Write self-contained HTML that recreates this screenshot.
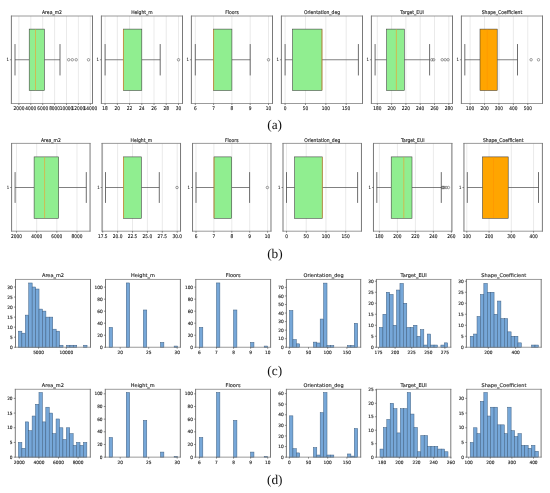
<!DOCTYPE html>
<html><head><meta charset="utf-8"><title>Figure</title>
<style>
html,body{margin:0;padding:0;background:#fff;}
body{width:550px;height:493px;overflow:hidden;}
svg{display:block;}
text{text-rendering:geometricPrecision;}
</style></head>
<body>
<svg width="550" height="493" viewBox="0 0 550 493">
<defs><filter id="soft" x="0" y="0" width="100%" height="100%" filterUnits="userSpaceOnUse"><feGaussianBlur stdDeviation="0.3"/></filter></defs>
<rect x="0" y="0" width="550" height="493" fill="#fff"/>
<g filter="url(#soft)">
<line x1="18.9" y1="16" x2="18.9" y2="103.5" stroke="#dcdcdc" stroke-width="0.6"/>
<line x1="30.8" y1="16" x2="30.8" y2="103.5" stroke="#dcdcdc" stroke-width="0.6"/>
<line x1="42.7" y1="16" x2="42.7" y2="103.5" stroke="#dcdcdc" stroke-width="0.6"/>
<line x1="54.6" y1="16" x2="54.6" y2="103.5" stroke="#dcdcdc" stroke-width="0.6"/>
<line x1="66.5" y1="16" x2="66.5" y2="103.5" stroke="#dcdcdc" stroke-width="0.6"/>
<line x1="78.4" y1="16" x2="78.4" y2="103.5" stroke="#dcdcdc" stroke-width="0.6"/>
<line x1="90.3" y1="16" x2="90.3" y2="103.5" stroke="#dcdcdc" stroke-width="0.6"/>
<line x1="15" y1="59.75" x2="29.2" y2="59.75" stroke="#4a4a4a" stroke-width="0.7"/>
<line x1="44.4" y1="59.75" x2="60" y2="59.75" stroke="#4a4a4a" stroke-width="0.7"/>
<line x1="15" y1="44.05" x2="15" y2="75.45" stroke="#4a4a4a" stroke-width="0.8"/>
<line x1="60" y1="44.05" x2="60" y2="75.45" stroke="#4a4a4a" stroke-width="0.8"/>
<rect x="29.2" y="29.1" width="15.2" height="61.4" fill="#90ee90" stroke="#3a3a3a" stroke-width="0.55"/>
<line x1="35.5" y1="29.4" x2="35.5" y2="90.2" stroke="#f0a030" stroke-width="0.65"/>
<circle cx="68.7" cy="59.75" r="1.25" fill="none" stroke="#444" stroke-width="0.5"/>
<circle cx="72.3" cy="59.75" r="1.25" fill="none" stroke="#444" stroke-width="0.5"/>
<circle cx="76.2" cy="59.75" r="1.25" fill="none" stroke="#444" stroke-width="0.5"/>
<circle cx="88.5" cy="59.75" r="1.25" fill="none" stroke="#444" stroke-width="0.5"/>
<line x1="11.4" y1="15.62" x2="11.4" y2="103.88" stroke="#6a6a6a" stroke-width="0.9"/>
<line x1="92.5" y1="15.62" x2="92.5" y2="103.88" stroke="#6a6a6a" stroke-width="0.9"/>
<line x1="10.95" y1="16" x2="92.95" y2="16" stroke="#7a7a7a" stroke-width="0.75"/>
<line x1="10.95" y1="103.5" x2="92.95" y2="103.5" stroke="#7a7a7a" stroke-width="0.75"/>
<line x1="18.9" y1="103.5" x2="18.9" y2="105" stroke="#444" stroke-width="0.6"/>
<text transform="translate(18.9 110.35) scale(1 1.15)" font-size="4.3" text-anchor="middle" font-family="'DejaVu Sans', 'Liberation Sans', sans-serif" fill="#222" stroke="#222" stroke-width="0.12">2000</text>
<line x1="30.8" y1="103.5" x2="30.8" y2="105" stroke="#444" stroke-width="0.6"/>
<text transform="translate(30.8 110.35) scale(1 1.15)" font-size="4.3" text-anchor="middle" font-family="'DejaVu Sans', 'Liberation Sans', sans-serif" fill="#222" stroke="#222" stroke-width="0.12">4000</text>
<line x1="42.7" y1="103.5" x2="42.7" y2="105" stroke="#444" stroke-width="0.6"/>
<text transform="translate(42.7 110.35) scale(1 1.15)" font-size="4.3" text-anchor="middle" font-family="'DejaVu Sans', 'Liberation Sans', sans-serif" fill="#222" stroke="#222" stroke-width="0.12">6000</text>
<line x1="54.6" y1="103.5" x2="54.6" y2="105" stroke="#444" stroke-width="0.6"/>
<text transform="translate(54.6 110.35) scale(1 1.15)" font-size="4.3" text-anchor="middle" font-family="'DejaVu Sans', 'Liberation Sans', sans-serif" fill="#222" stroke="#222" stroke-width="0.12">8000</text>
<line x1="66.5" y1="103.5" x2="66.5" y2="105" stroke="#444" stroke-width="0.6"/>
<text transform="translate(66.5 110.35) scale(1 1.15)" font-size="4.3" text-anchor="middle" font-family="'DejaVu Sans', 'Liberation Sans', sans-serif" fill="#222" stroke="#222" stroke-width="0.12">10000</text>
<line x1="78.4" y1="103.5" x2="78.4" y2="105" stroke="#444" stroke-width="0.6"/>
<text transform="translate(78.4 110.35) scale(1 1.15)" font-size="4.3" text-anchor="middle" font-family="'DejaVu Sans', 'Liberation Sans', sans-serif" fill="#222" stroke="#222" stroke-width="0.12">12000</text>
<line x1="90.3" y1="103.5" x2="90.3" y2="105" stroke="#444" stroke-width="0.6"/>
<text transform="translate(90.3 110.35) scale(1 1.15)" font-size="4.3" text-anchor="middle" font-family="'DejaVu Sans', 'Liberation Sans', sans-serif" fill="#222" stroke="#222" stroke-width="0.12">14000</text>
<line x1="9.9" y1="59.75" x2="11.4" y2="59.75" stroke="#444" stroke-width="0.6"/>
<text transform="translate(8.9 61.45) scale(1 1.15)" font-size="3.8" text-anchor="end" font-family="'DejaVu Sans', 'Liberation Sans', sans-serif" fill="#222" stroke="#222" stroke-width="0.05">1</text>
<text transform="translate(51.95 13.6) scale(1 1.15)" font-size="4.5" text-anchor="middle" font-family="'DejaVu Sans', 'Liberation Sans', sans-serif" fill="#222" stroke="#222" stroke-width="0.12">Area_m2</text>
<line x1="105.1" y1="16" x2="105.1" y2="103.5" stroke="#dcdcdc" stroke-width="0.6"/>
<line x1="117.33" y1="16" x2="117.33" y2="103.5" stroke="#dcdcdc" stroke-width="0.6"/>
<line x1="129.56" y1="16" x2="129.56" y2="103.5" stroke="#dcdcdc" stroke-width="0.6"/>
<line x1="141.79" y1="16" x2="141.79" y2="103.5" stroke="#dcdcdc" stroke-width="0.6"/>
<line x1="154.02" y1="16" x2="154.02" y2="103.5" stroke="#dcdcdc" stroke-width="0.6"/>
<line x1="166.25" y1="16" x2="166.25" y2="103.5" stroke="#dcdcdc" stroke-width="0.6"/>
<line x1="178.48" y1="16" x2="178.48" y2="103.5" stroke="#dcdcdc" stroke-width="0.6"/>
<line x1="105.1" y1="59.75" x2="123.4" y2="59.75" stroke="#4a4a4a" stroke-width="0.7"/>
<line x1="141.8" y1="59.75" x2="160.2" y2="59.75" stroke="#4a4a4a" stroke-width="0.7"/>
<line x1="105.1" y1="44.05" x2="105.1" y2="75.45" stroke="#4a4a4a" stroke-width="0.8"/>
<line x1="160.2" y1="44.05" x2="160.2" y2="75.45" stroke="#4a4a4a" stroke-width="0.8"/>
<rect x="123.4" y="29.1" width="18.4" height="61.4" fill="#90ee90" stroke="#3a3a3a" stroke-width="0.55"/>
<line x1="123.45" y1="29.4" x2="123.45" y2="90.2" stroke="#f0a030" stroke-width="0.65"/>
<circle cx="178.5" cy="59.75" r="1.25" fill="none" stroke="#444" stroke-width="0.5"/>
<line x1="101.4" y1="15.62" x2="101.4" y2="103.88" stroke="#6a6a6a" stroke-width="0.9"/>
<line x1="182.5" y1="15.62" x2="182.5" y2="103.88" stroke="#6a6a6a" stroke-width="0.9"/>
<line x1="100.95" y1="16" x2="182.95" y2="16" stroke="#7a7a7a" stroke-width="0.75"/>
<line x1="100.95" y1="103.5" x2="182.95" y2="103.5" stroke="#7a7a7a" stroke-width="0.75"/>
<line x1="105.1" y1="103.5" x2="105.1" y2="105" stroke="#444" stroke-width="0.6"/>
<text transform="translate(105.1 110.35) scale(1 1.15)" font-size="4.3" text-anchor="middle" font-family="'DejaVu Sans', 'Liberation Sans', sans-serif" fill="#222" stroke="#222" stroke-width="0.12">18</text>
<line x1="117.33" y1="103.5" x2="117.33" y2="105" stroke="#444" stroke-width="0.6"/>
<text transform="translate(117.33 110.35) scale(1 1.15)" font-size="4.3" text-anchor="middle" font-family="'DejaVu Sans', 'Liberation Sans', sans-serif" fill="#222" stroke="#222" stroke-width="0.12">20</text>
<line x1="129.56" y1="103.5" x2="129.56" y2="105" stroke="#444" stroke-width="0.6"/>
<text transform="translate(129.56 110.35) scale(1 1.15)" font-size="4.3" text-anchor="middle" font-family="'DejaVu Sans', 'Liberation Sans', sans-serif" fill="#222" stroke="#222" stroke-width="0.12">22</text>
<line x1="141.79" y1="103.5" x2="141.79" y2="105" stroke="#444" stroke-width="0.6"/>
<text transform="translate(141.79 110.35) scale(1 1.15)" font-size="4.3" text-anchor="middle" font-family="'DejaVu Sans', 'Liberation Sans', sans-serif" fill="#222" stroke="#222" stroke-width="0.12">24</text>
<line x1="154.02" y1="103.5" x2="154.02" y2="105" stroke="#444" stroke-width="0.6"/>
<text transform="translate(154.02 110.35) scale(1 1.15)" font-size="4.3" text-anchor="middle" font-family="'DejaVu Sans', 'Liberation Sans', sans-serif" fill="#222" stroke="#222" stroke-width="0.12">26</text>
<line x1="166.25" y1="103.5" x2="166.25" y2="105" stroke="#444" stroke-width="0.6"/>
<text transform="translate(166.25 110.35) scale(1 1.15)" font-size="4.3" text-anchor="middle" font-family="'DejaVu Sans', 'Liberation Sans', sans-serif" fill="#222" stroke="#222" stroke-width="0.12">28</text>
<line x1="178.48" y1="103.5" x2="178.48" y2="105" stroke="#444" stroke-width="0.6"/>
<text transform="translate(178.48 110.35) scale(1 1.15)" font-size="4.3" text-anchor="middle" font-family="'DejaVu Sans', 'Liberation Sans', sans-serif" fill="#222" stroke="#222" stroke-width="0.12">30</text>
<line x1="99.9" y1="59.75" x2="101.4" y2="59.75" stroke="#444" stroke-width="0.6"/>
<text transform="translate(98.9 61.45) scale(1 1.15)" font-size="3.8" text-anchor="end" font-family="'DejaVu Sans', 'Liberation Sans', sans-serif" fill="#222" stroke="#222" stroke-width="0.05">1</text>
<text transform="translate(141.95 13.6) scale(1 1.15)" font-size="4.5" text-anchor="middle" font-family="'DejaVu Sans', 'Liberation Sans', sans-serif" fill="#222" stroke="#222" stroke-width="0.12">Height_m</text>
<line x1="195.3" y1="16" x2="195.3" y2="103.5" stroke="#dcdcdc" stroke-width="0.6"/>
<line x1="213.6" y1="16" x2="213.6" y2="103.5" stroke="#dcdcdc" stroke-width="0.6"/>
<line x1="231.9" y1="16" x2="231.9" y2="103.5" stroke="#dcdcdc" stroke-width="0.6"/>
<line x1="250.2" y1="16" x2="250.2" y2="103.5" stroke="#dcdcdc" stroke-width="0.6"/>
<line x1="268.5" y1="16" x2="268.5" y2="103.5" stroke="#dcdcdc" stroke-width="0.6"/>
<line x1="195.3" y1="59.75" x2="213.6" y2="59.75" stroke="#4a4a4a" stroke-width="0.7"/>
<line x1="231.9" y1="59.75" x2="250.2" y2="59.75" stroke="#4a4a4a" stroke-width="0.7"/>
<line x1="195.3" y1="44.05" x2="195.3" y2="75.45" stroke="#4a4a4a" stroke-width="0.8"/>
<line x1="250.2" y1="44.05" x2="250.2" y2="75.45" stroke="#4a4a4a" stroke-width="0.8"/>
<rect x="213.6" y="29.1" width="18.3" height="61.4" fill="#90ee90" stroke="#3a3a3a" stroke-width="0.55"/>
<line x1="213.65" y1="29.4" x2="213.65" y2="90.2" stroke="#f0a030" stroke-width="0.65"/>
<circle cx="268.5" cy="59.75" r="1.25" fill="none" stroke="#444" stroke-width="0.5"/>
<line x1="191.4" y1="15.62" x2="191.4" y2="103.88" stroke="#6a6a6a" stroke-width="0.9"/>
<line x1="272.5" y1="15.62" x2="272.5" y2="103.88" stroke="#6a6a6a" stroke-width="0.9"/>
<line x1="190.95" y1="16" x2="272.95" y2="16" stroke="#7a7a7a" stroke-width="0.75"/>
<line x1="190.95" y1="103.5" x2="272.95" y2="103.5" stroke="#7a7a7a" stroke-width="0.75"/>
<line x1="195.3" y1="103.5" x2="195.3" y2="105" stroke="#444" stroke-width="0.6"/>
<text transform="translate(195.3 110.35) scale(1 1.15)" font-size="4.3" text-anchor="middle" font-family="'DejaVu Sans', 'Liberation Sans', sans-serif" fill="#222" stroke="#222" stroke-width="0.12">6</text>
<line x1="213.6" y1="103.5" x2="213.6" y2="105" stroke="#444" stroke-width="0.6"/>
<text transform="translate(213.6 110.35) scale(1 1.15)" font-size="4.3" text-anchor="middle" font-family="'DejaVu Sans', 'Liberation Sans', sans-serif" fill="#222" stroke="#222" stroke-width="0.12">7</text>
<line x1="231.9" y1="103.5" x2="231.9" y2="105" stroke="#444" stroke-width="0.6"/>
<text transform="translate(231.9 110.35) scale(1 1.15)" font-size="4.3" text-anchor="middle" font-family="'DejaVu Sans', 'Liberation Sans', sans-serif" fill="#222" stroke="#222" stroke-width="0.12">8</text>
<line x1="250.2" y1="103.5" x2="250.2" y2="105" stroke="#444" stroke-width="0.6"/>
<text transform="translate(250.2 110.35) scale(1 1.15)" font-size="4.3" text-anchor="middle" font-family="'DejaVu Sans', 'Liberation Sans', sans-serif" fill="#222" stroke="#222" stroke-width="0.12">9</text>
<line x1="268.5" y1="103.5" x2="268.5" y2="105" stroke="#444" stroke-width="0.6"/>
<text transform="translate(268.5 110.35) scale(1 1.15)" font-size="4.3" text-anchor="middle" font-family="'DejaVu Sans', 'Liberation Sans', sans-serif" fill="#222" stroke="#222" stroke-width="0.12">10</text>
<line x1="189.9" y1="59.75" x2="191.4" y2="59.75" stroke="#444" stroke-width="0.6"/>
<text transform="translate(188.9 61.45) scale(1 1.15)" font-size="3.8" text-anchor="end" font-family="'DejaVu Sans', 'Liberation Sans', sans-serif" fill="#222" stroke="#222" stroke-width="0.05">1</text>
<text transform="translate(231.95 13.6) scale(1 1.15)" font-size="4.5" text-anchor="middle" font-family="'DejaVu Sans', 'Liberation Sans', sans-serif" fill="#222" stroke="#222" stroke-width="0.12">Floors</text>
<line x1="285.1" y1="16" x2="285.1" y2="103.5" stroke="#dcdcdc" stroke-width="0.6"/>
<line x1="305.47" y1="16" x2="305.47" y2="103.5" stroke="#dcdcdc" stroke-width="0.6"/>
<line x1="325.84" y1="16" x2="325.84" y2="103.5" stroke="#dcdcdc" stroke-width="0.6"/>
<line x1="346.21" y1="16" x2="346.21" y2="103.5" stroke="#dcdcdc" stroke-width="0.6"/>
<line x1="285.1" y1="59.75" x2="292.5" y2="59.75" stroke="#4a4a4a" stroke-width="0.7"/>
<line x1="322" y1="59.75" x2="358.4" y2="59.75" stroke="#4a4a4a" stroke-width="0.7"/>
<line x1="285.1" y1="44.05" x2="285.1" y2="75.45" stroke="#4a4a4a" stroke-width="0.8"/>
<line x1="358.4" y1="44.05" x2="358.4" y2="75.45" stroke="#4a4a4a" stroke-width="0.8"/>
<rect x="292.5" y="29.1" width="29.5" height="61.4" fill="#90ee90" stroke="#3a3a3a" stroke-width="0.55"/>
<line x1="321.95" y1="29.4" x2="321.95" y2="90.2" stroke="#f0a030" stroke-width="0.65"/>
<line x1="281.4" y1="15.62" x2="281.4" y2="103.88" stroke="#6a6a6a" stroke-width="0.9"/>
<line x1="362.5" y1="15.62" x2="362.5" y2="103.88" stroke="#6a6a6a" stroke-width="0.9"/>
<line x1="280.95" y1="16" x2="362.95" y2="16" stroke="#7a7a7a" stroke-width="0.75"/>
<line x1="280.95" y1="103.5" x2="362.95" y2="103.5" stroke="#7a7a7a" stroke-width="0.75"/>
<line x1="285.1" y1="103.5" x2="285.1" y2="105" stroke="#444" stroke-width="0.6"/>
<text transform="translate(285.1 110.35) scale(1 1.15)" font-size="4.3" text-anchor="middle" font-family="'DejaVu Sans', 'Liberation Sans', sans-serif" fill="#222" stroke="#222" stroke-width="0.12">0</text>
<line x1="305.47" y1="103.5" x2="305.47" y2="105" stroke="#444" stroke-width="0.6"/>
<text transform="translate(305.47 110.35) scale(1 1.15)" font-size="4.3" text-anchor="middle" font-family="'DejaVu Sans', 'Liberation Sans', sans-serif" fill="#222" stroke="#222" stroke-width="0.12">50</text>
<line x1="325.84" y1="103.5" x2="325.84" y2="105" stroke="#444" stroke-width="0.6"/>
<text transform="translate(325.84 110.35) scale(1 1.15)" font-size="4.3" text-anchor="middle" font-family="'DejaVu Sans', 'Liberation Sans', sans-serif" fill="#222" stroke="#222" stroke-width="0.12">100</text>
<line x1="346.21" y1="103.5" x2="346.21" y2="105" stroke="#444" stroke-width="0.6"/>
<text transform="translate(346.21 110.35) scale(1 1.15)" font-size="4.3" text-anchor="middle" font-family="'DejaVu Sans', 'Liberation Sans', sans-serif" fill="#222" stroke="#222" stroke-width="0.12">150</text>
<line x1="279.9" y1="59.75" x2="281.4" y2="59.75" stroke="#444" stroke-width="0.6"/>
<text transform="translate(278.9 61.45) scale(1 1.15)" font-size="3.8" text-anchor="end" font-family="'DejaVu Sans', 'Liberation Sans', sans-serif" fill="#222" stroke="#222" stroke-width="0.05">1</text>
<text transform="translate(321.95 13.6) scale(1 1.15)" font-size="4.5" text-anchor="middle" font-family="'DejaVu Sans', 'Liberation Sans', sans-serif" fill="#222" stroke="#222" stroke-width="0.12">Orientation_deg</text>
<line x1="377.3" y1="16" x2="377.3" y2="103.5" stroke="#dcdcdc" stroke-width="0.6"/>
<line x1="391.6" y1="16" x2="391.6" y2="103.5" stroke="#dcdcdc" stroke-width="0.6"/>
<line x1="405.9" y1="16" x2="405.9" y2="103.5" stroke="#dcdcdc" stroke-width="0.6"/>
<line x1="420.2" y1="16" x2="420.2" y2="103.5" stroke="#dcdcdc" stroke-width="0.6"/>
<line x1="434.5" y1="16" x2="434.5" y2="103.5" stroke="#dcdcdc" stroke-width="0.6"/>
<line x1="448.8" y1="16" x2="448.8" y2="103.5" stroke="#dcdcdc" stroke-width="0.6"/>
<line x1="375.1" y1="59.75" x2="386.6" y2="59.75" stroke="#4a4a4a" stroke-width="0.7"/>
<line x1="404.3" y1="59.75" x2="429.6" y2="59.75" stroke="#4a4a4a" stroke-width="0.7"/>
<line x1="375.1" y1="44.05" x2="375.1" y2="75.45" stroke="#4a4a4a" stroke-width="0.8"/>
<line x1="429.6" y1="44.05" x2="429.6" y2="75.45" stroke="#4a4a4a" stroke-width="0.8"/>
<rect x="386.6" y="29.1" width="17.7" height="61.4" fill="#90ee90" stroke="#3a3a3a" stroke-width="0.55"/>
<line x1="396.4" y1="29.4" x2="396.4" y2="90.2" stroke="#f0a030" stroke-width="0.65"/>
<circle cx="431.8" cy="59.75" r="1.25" fill="none" stroke="#444" stroke-width="0.5"/>
<circle cx="433.7" cy="59.75" r="1.25" fill="none" stroke="#444" stroke-width="0.5"/>
<circle cx="442.2" cy="59.75" r="1.25" fill="none" stroke="#444" stroke-width="0.5"/>
<circle cx="445.2" cy="59.75" r="1.25" fill="none" stroke="#444" stroke-width="0.5"/>
<circle cx="448.1" cy="59.75" r="1.25" fill="none" stroke="#444" stroke-width="0.5"/>
<line x1="371.4" y1="15.62" x2="371.4" y2="103.88" stroke="#6a6a6a" stroke-width="0.9"/>
<line x1="452.5" y1="15.62" x2="452.5" y2="103.88" stroke="#6a6a6a" stroke-width="0.9"/>
<line x1="370.95" y1="16" x2="452.95" y2="16" stroke="#7a7a7a" stroke-width="0.75"/>
<line x1="370.95" y1="103.5" x2="452.95" y2="103.5" stroke="#7a7a7a" stroke-width="0.75"/>
<line x1="377.3" y1="103.5" x2="377.3" y2="105" stroke="#444" stroke-width="0.6"/>
<text transform="translate(377.3 110.35) scale(1 1.15)" font-size="4.3" text-anchor="middle" font-family="'DejaVu Sans', 'Liberation Sans', sans-serif" fill="#222" stroke="#222" stroke-width="0.12">180</text>
<line x1="391.6" y1="103.5" x2="391.6" y2="105" stroke="#444" stroke-width="0.6"/>
<text transform="translate(391.6 110.35) scale(1 1.15)" font-size="4.3" text-anchor="middle" font-family="'DejaVu Sans', 'Liberation Sans', sans-serif" fill="#222" stroke="#222" stroke-width="0.12">200</text>
<line x1="405.9" y1="103.5" x2="405.9" y2="105" stroke="#444" stroke-width="0.6"/>
<text transform="translate(405.9 110.35) scale(1 1.15)" font-size="4.3" text-anchor="middle" font-family="'DejaVu Sans', 'Liberation Sans', sans-serif" fill="#222" stroke="#222" stroke-width="0.12">220</text>
<line x1="420.2" y1="103.5" x2="420.2" y2="105" stroke="#444" stroke-width="0.6"/>
<text transform="translate(420.2 110.35) scale(1 1.15)" font-size="4.3" text-anchor="middle" font-family="'DejaVu Sans', 'Liberation Sans', sans-serif" fill="#222" stroke="#222" stroke-width="0.12">240</text>
<line x1="434.5" y1="103.5" x2="434.5" y2="105" stroke="#444" stroke-width="0.6"/>
<text transform="translate(434.5 110.35) scale(1 1.15)" font-size="4.3" text-anchor="middle" font-family="'DejaVu Sans', 'Liberation Sans', sans-serif" fill="#222" stroke="#222" stroke-width="0.12">260</text>
<line x1="448.8" y1="103.5" x2="448.8" y2="105" stroke="#444" stroke-width="0.6"/>
<text transform="translate(448.8 110.35) scale(1 1.15)" font-size="4.3" text-anchor="middle" font-family="'DejaVu Sans', 'Liberation Sans', sans-serif" fill="#222" stroke="#222" stroke-width="0.12">280</text>
<line x1="369.9" y1="59.75" x2="371.4" y2="59.75" stroke="#444" stroke-width="0.6"/>
<text transform="translate(368.9 61.45) scale(1 1.15)" font-size="3.8" text-anchor="end" font-family="'DejaVu Sans', 'Liberation Sans', sans-serif" fill="#222" stroke="#222" stroke-width="0.05">1</text>
<text transform="translate(411.95 13.6) scale(1 1.15)" font-size="4.5" text-anchor="middle" font-family="'DejaVu Sans', 'Liberation Sans', sans-serif" fill="#222" stroke="#222" stroke-width="0.12">Target_EUI</text>
<line x1="470.1" y1="16" x2="470.1" y2="103.5" stroke="#dcdcdc" stroke-width="0.6"/>
<line x1="484.52" y1="16" x2="484.52" y2="103.5" stroke="#dcdcdc" stroke-width="0.6"/>
<line x1="498.94" y1="16" x2="498.94" y2="103.5" stroke="#dcdcdc" stroke-width="0.6"/>
<line x1="513.36" y1="16" x2="513.36" y2="103.5" stroke="#dcdcdc" stroke-width="0.6"/>
<line x1="527.78" y1="16" x2="527.78" y2="103.5" stroke="#dcdcdc" stroke-width="0.6"/>
<line x1="464.8" y1="59.75" x2="480" y2="59.75" stroke="#4a4a4a" stroke-width="0.7"/>
<line x1="497.2" y1="59.75" x2="517.5" y2="59.75" stroke="#4a4a4a" stroke-width="0.7"/>
<line x1="464.8" y1="44.05" x2="464.8" y2="75.45" stroke="#4a4a4a" stroke-width="0.8"/>
<line x1="517.5" y1="44.05" x2="517.5" y2="75.45" stroke="#4a4a4a" stroke-width="0.8"/>
<rect x="480" y="29.1" width="17.2" height="61.4" fill="#ffa500" stroke="#3a3a3a" stroke-width="0.55"/>
<line x1="487.2" y1="29.4" x2="487.2" y2="90.2" stroke="#ff9400" stroke-width="0.65"/>
<circle cx="531.1" cy="59.75" r="1.25" fill="none" stroke="#444" stroke-width="0.5"/>
<circle cx="538.5" cy="59.75" r="1.25" fill="none" stroke="#444" stroke-width="0.5"/>
<line x1="461.4" y1="15.62" x2="461.4" y2="103.88" stroke="#6a6a6a" stroke-width="0.9"/>
<line x1="542.5" y1="15.62" x2="542.5" y2="103.88" stroke="#6a6a6a" stroke-width="0.9"/>
<line x1="460.95" y1="16" x2="542.95" y2="16" stroke="#7a7a7a" stroke-width="0.75"/>
<line x1="460.95" y1="103.5" x2="542.95" y2="103.5" stroke="#7a7a7a" stroke-width="0.75"/>
<line x1="470.1" y1="103.5" x2="470.1" y2="105" stroke="#444" stroke-width="0.6"/>
<text transform="translate(470.1 110.35) scale(1 1.15)" font-size="4.3" text-anchor="middle" font-family="'DejaVu Sans', 'Liberation Sans', sans-serif" fill="#222" stroke="#222" stroke-width="0.12">100</text>
<line x1="484.52" y1="103.5" x2="484.52" y2="105" stroke="#444" stroke-width="0.6"/>
<text transform="translate(484.52 110.35) scale(1 1.15)" font-size="4.3" text-anchor="middle" font-family="'DejaVu Sans', 'Liberation Sans', sans-serif" fill="#222" stroke="#222" stroke-width="0.12">200</text>
<line x1="498.94" y1="103.5" x2="498.94" y2="105" stroke="#444" stroke-width="0.6"/>
<text transform="translate(498.94 110.35) scale(1 1.15)" font-size="4.3" text-anchor="middle" font-family="'DejaVu Sans', 'Liberation Sans', sans-serif" fill="#222" stroke="#222" stroke-width="0.12">300</text>
<line x1="513.36" y1="103.5" x2="513.36" y2="105" stroke="#444" stroke-width="0.6"/>
<text transform="translate(513.36 110.35) scale(1 1.15)" font-size="4.3" text-anchor="middle" font-family="'DejaVu Sans', 'Liberation Sans', sans-serif" fill="#222" stroke="#222" stroke-width="0.12">400</text>
<line x1="527.78" y1="103.5" x2="527.78" y2="105" stroke="#444" stroke-width="0.6"/>
<text transform="translate(527.78 110.35) scale(1 1.15)" font-size="4.3" text-anchor="middle" font-family="'DejaVu Sans', 'Liberation Sans', sans-serif" fill="#222" stroke="#222" stroke-width="0.12">500</text>
<line x1="459.9" y1="59.75" x2="461.4" y2="59.75" stroke="#444" stroke-width="0.6"/>
<text transform="translate(458.9 61.45) scale(1 1.15)" font-size="3.8" text-anchor="end" font-family="'DejaVu Sans', 'Liberation Sans', sans-serif" fill="#222" stroke="#222" stroke-width="0.05">1</text>
<text transform="translate(501.95 13.6) scale(1 1.15)" font-size="4.5" text-anchor="middle" font-family="'DejaVu Sans', 'Liberation Sans', sans-serif" fill="#222" stroke="#222" stroke-width="0.12">Shape_Coefficient</text>
<line x1="16.5" y1="143.4" x2="16.5" y2="231.2" stroke="#dcdcdc" stroke-width="0.6"/>
<line x1="36.67" y1="143.4" x2="36.67" y2="231.2" stroke="#dcdcdc" stroke-width="0.6"/>
<line x1="56.84" y1="143.4" x2="56.84" y2="231.2" stroke="#dcdcdc" stroke-width="0.6"/>
<line x1="77.01" y1="143.4" x2="77.01" y2="231.2" stroke="#dcdcdc" stroke-width="0.6"/>
<line x1="15.1" y1="187.5" x2="34.1" y2="187.5" stroke="#4a4a4a" stroke-width="0.7"/>
<line x1="58.7" y1="187.5" x2="86.3" y2="187.5" stroke="#4a4a4a" stroke-width="0.7"/>
<line x1="15.1" y1="172.1" x2="15.1" y2="202.9" stroke="#4a4a4a" stroke-width="0.8"/>
<line x1="86.3" y1="172.1" x2="86.3" y2="202.9" stroke="#4a4a4a" stroke-width="0.8"/>
<rect x="34.1" y="156.9" width="24.6" height="61.4" fill="#90ee90" stroke="#3a3a3a" stroke-width="0.55"/>
<line x1="44.6" y1="157.2" x2="44.6" y2="218" stroke="#f0a030" stroke-width="0.65"/>
<line x1="11.6" y1="143.03" x2="11.6" y2="231.57" stroke="#6a6a6a" stroke-width="0.9"/>
<line x1="90.05" y1="143.03" x2="90.05" y2="231.57" stroke="#6a6a6a" stroke-width="0.9"/>
<line x1="11.15" y1="143.4" x2="90.5" y2="143.4" stroke="#7a7a7a" stroke-width="0.75"/>
<line x1="11.15" y1="231.2" x2="90.5" y2="231.2" stroke="#7a7a7a" stroke-width="0.75"/>
<line x1="16.5" y1="231.2" x2="16.5" y2="232.7" stroke="#444" stroke-width="0.6"/>
<text transform="translate(16.5 238.1) scale(1 1.15)" font-size="4.3" text-anchor="middle" font-family="'DejaVu Sans', 'Liberation Sans', sans-serif" fill="#222" stroke="#222" stroke-width="0.12">2000</text>
<line x1="36.67" y1="231.2" x2="36.67" y2="232.7" stroke="#444" stroke-width="0.6"/>
<text transform="translate(36.67 238.1) scale(1 1.15)" font-size="4.3" text-anchor="middle" font-family="'DejaVu Sans', 'Liberation Sans', sans-serif" fill="#222" stroke="#222" stroke-width="0.12">4000</text>
<line x1="56.84" y1="231.2" x2="56.84" y2="232.7" stroke="#444" stroke-width="0.6"/>
<text transform="translate(56.84 238.1) scale(1 1.15)" font-size="4.3" text-anchor="middle" font-family="'DejaVu Sans', 'Liberation Sans', sans-serif" fill="#222" stroke="#222" stroke-width="0.12">6000</text>
<line x1="77.01" y1="231.2" x2="77.01" y2="232.7" stroke="#444" stroke-width="0.6"/>
<text transform="translate(77.01 238.1) scale(1 1.15)" font-size="4.3" text-anchor="middle" font-family="'DejaVu Sans', 'Liberation Sans', sans-serif" fill="#222" stroke="#222" stroke-width="0.12">8000</text>
<line x1="10.1" y1="187.5" x2="11.6" y2="187.5" stroke="#444" stroke-width="0.6"/>
<text transform="translate(9.1 189.2) scale(1 1.15)" font-size="3.8" text-anchor="end" font-family="'DejaVu Sans', 'Liberation Sans', sans-serif" fill="#222" stroke="#222" stroke-width="0.05">1</text>
<text transform="translate(50.82 141.5) scale(1 1.15)" font-size="4.5" text-anchor="middle" font-family="'DejaVu Sans', 'Liberation Sans', sans-serif" fill="#222" stroke="#222" stroke-width="0.12">Area_m2</text>
<line x1="102.7" y1="143.4" x2="102.7" y2="231.2" stroke="#dcdcdc" stroke-width="0.6"/>
<line x1="117.6" y1="143.4" x2="117.6" y2="231.2" stroke="#dcdcdc" stroke-width="0.6"/>
<line x1="132.5" y1="143.4" x2="132.5" y2="231.2" stroke="#dcdcdc" stroke-width="0.6"/>
<line x1="147.4" y1="143.4" x2="147.4" y2="231.2" stroke="#dcdcdc" stroke-width="0.6"/>
<line x1="162.3" y1="143.4" x2="162.3" y2="231.2" stroke="#dcdcdc" stroke-width="0.6"/>
<line x1="177.2" y1="143.4" x2="177.2" y2="231.2" stroke="#dcdcdc" stroke-width="0.6"/>
<line x1="105.5" y1="187.5" x2="123.5" y2="187.5" stroke="#4a4a4a" stroke-width="0.7"/>
<line x1="141.4" y1="187.5" x2="159.3" y2="187.5" stroke="#4a4a4a" stroke-width="0.7"/>
<line x1="105.5" y1="172.1" x2="105.5" y2="202.9" stroke="#4a4a4a" stroke-width="0.8"/>
<line x1="159.3" y1="172.1" x2="159.3" y2="202.9" stroke="#4a4a4a" stroke-width="0.8"/>
<rect x="123.5" y="156.9" width="17.9" height="61.4" fill="#90ee90" stroke="#3a3a3a" stroke-width="0.55"/>
<line x1="123.55" y1="157.2" x2="123.55" y2="218" stroke="#f0a030" stroke-width="0.65"/>
<circle cx="177" cy="187.5" r="1.25" fill="none" stroke="#444" stroke-width="0.5"/>
<line x1="102.07" y1="143.03" x2="102.07" y2="231.57" stroke="#6a6a6a" stroke-width="0.9"/>
<line x1="180.52" y1="143.03" x2="180.52" y2="231.57" stroke="#6a6a6a" stroke-width="0.9"/>
<line x1="101.62" y1="143.4" x2="180.97" y2="143.4" stroke="#7a7a7a" stroke-width="0.75"/>
<line x1="101.62" y1="231.2" x2="180.97" y2="231.2" stroke="#7a7a7a" stroke-width="0.75"/>
<line x1="102.7" y1="231.2" x2="102.7" y2="232.7" stroke="#444" stroke-width="0.6"/>
<text transform="translate(102.7 238.1) scale(1 1.15)" font-size="4.3" text-anchor="middle" font-family="'DejaVu Sans', 'Liberation Sans', sans-serif" fill="#222" stroke="#222" stroke-width="0.12">17.5</text>
<line x1="117.6" y1="231.2" x2="117.6" y2="232.7" stroke="#444" stroke-width="0.6"/>
<text transform="translate(117.6 238.1) scale(1 1.15)" font-size="4.3" text-anchor="middle" font-family="'DejaVu Sans', 'Liberation Sans', sans-serif" fill="#222" stroke="#222" stroke-width="0.12">20.0</text>
<line x1="132.5" y1="231.2" x2="132.5" y2="232.7" stroke="#444" stroke-width="0.6"/>
<text transform="translate(132.5 238.1) scale(1 1.15)" font-size="4.3" text-anchor="middle" font-family="'DejaVu Sans', 'Liberation Sans', sans-serif" fill="#222" stroke="#222" stroke-width="0.12">22.5</text>
<line x1="147.4" y1="231.2" x2="147.4" y2="232.7" stroke="#444" stroke-width="0.6"/>
<text transform="translate(147.4 238.1) scale(1 1.15)" font-size="4.3" text-anchor="middle" font-family="'DejaVu Sans', 'Liberation Sans', sans-serif" fill="#222" stroke="#222" stroke-width="0.12">25.0</text>
<line x1="162.3" y1="231.2" x2="162.3" y2="232.7" stroke="#444" stroke-width="0.6"/>
<text transform="translate(162.3 238.1) scale(1 1.15)" font-size="4.3" text-anchor="middle" font-family="'DejaVu Sans', 'Liberation Sans', sans-serif" fill="#222" stroke="#222" stroke-width="0.12">27.5</text>
<line x1="177.2" y1="231.2" x2="177.2" y2="232.7" stroke="#444" stroke-width="0.6"/>
<text transform="translate(177.2 238.1) scale(1 1.15)" font-size="4.3" text-anchor="middle" font-family="'DejaVu Sans', 'Liberation Sans', sans-serif" fill="#222" stroke="#222" stroke-width="0.12">30.0</text>
<line x1="100.57" y1="187.5" x2="102.07" y2="187.5" stroke="#444" stroke-width="0.6"/>
<text transform="translate(99.57 189.2) scale(1 1.15)" font-size="3.8" text-anchor="end" font-family="'DejaVu Sans', 'Liberation Sans', sans-serif" fill="#222" stroke="#222" stroke-width="0.05">1</text>
<text transform="translate(141.29 141.5) scale(1 1.15)" font-size="4.5" text-anchor="middle" font-family="'DejaVu Sans', 'Liberation Sans', sans-serif" fill="#222" stroke="#222" stroke-width="0.12">Height_m</text>
<line x1="196" y1="143.4" x2="196" y2="231.2" stroke="#dcdcdc" stroke-width="0.6"/>
<line x1="213.9" y1="143.4" x2="213.9" y2="231.2" stroke="#dcdcdc" stroke-width="0.6"/>
<line x1="231.8" y1="143.4" x2="231.8" y2="231.2" stroke="#dcdcdc" stroke-width="0.6"/>
<line x1="249.7" y1="143.4" x2="249.7" y2="231.2" stroke="#dcdcdc" stroke-width="0.6"/>
<line x1="267.6" y1="143.4" x2="267.6" y2="231.2" stroke="#dcdcdc" stroke-width="0.6"/>
<line x1="196" y1="187.5" x2="214" y2="187.5" stroke="#4a4a4a" stroke-width="0.7"/>
<line x1="231.7" y1="187.5" x2="249.6" y2="187.5" stroke="#4a4a4a" stroke-width="0.7"/>
<line x1="196" y1="172.1" x2="196" y2="202.9" stroke="#4a4a4a" stroke-width="0.8"/>
<line x1="249.6" y1="172.1" x2="249.6" y2="202.9" stroke="#4a4a4a" stroke-width="0.8"/>
<rect x="214" y="156.9" width="17.7" height="61.4" fill="#90ee90" stroke="#3a3a3a" stroke-width="0.55"/>
<line x1="214.05" y1="157.2" x2="214.05" y2="218" stroke="#f0a030" stroke-width="0.65"/>
<circle cx="267.4" cy="187.5" r="1.25" fill="none" stroke="#444" stroke-width="0.5"/>
<line x1="192.54" y1="143.03" x2="192.54" y2="231.57" stroke="#6a6a6a" stroke-width="0.9"/>
<line x1="270.99" y1="143.03" x2="270.99" y2="231.57" stroke="#6a6a6a" stroke-width="0.9"/>
<line x1="192.09" y1="143.4" x2="271.44" y2="143.4" stroke="#7a7a7a" stroke-width="0.75"/>
<line x1="192.09" y1="231.2" x2="271.44" y2="231.2" stroke="#7a7a7a" stroke-width="0.75"/>
<line x1="196" y1="231.2" x2="196" y2="232.7" stroke="#444" stroke-width="0.6"/>
<text transform="translate(196 238.1) scale(1 1.15)" font-size="4.3" text-anchor="middle" font-family="'DejaVu Sans', 'Liberation Sans', sans-serif" fill="#222" stroke="#222" stroke-width="0.12">6</text>
<line x1="213.9" y1="231.2" x2="213.9" y2="232.7" stroke="#444" stroke-width="0.6"/>
<text transform="translate(213.9 238.1) scale(1 1.15)" font-size="4.3" text-anchor="middle" font-family="'DejaVu Sans', 'Liberation Sans', sans-serif" fill="#222" stroke="#222" stroke-width="0.12">7</text>
<line x1="231.8" y1="231.2" x2="231.8" y2="232.7" stroke="#444" stroke-width="0.6"/>
<text transform="translate(231.8 238.1) scale(1 1.15)" font-size="4.3" text-anchor="middle" font-family="'DejaVu Sans', 'Liberation Sans', sans-serif" fill="#222" stroke="#222" stroke-width="0.12">8</text>
<line x1="249.7" y1="231.2" x2="249.7" y2="232.7" stroke="#444" stroke-width="0.6"/>
<text transform="translate(249.7 238.1) scale(1 1.15)" font-size="4.3" text-anchor="middle" font-family="'DejaVu Sans', 'Liberation Sans', sans-serif" fill="#222" stroke="#222" stroke-width="0.12">9</text>
<line x1="267.6" y1="231.2" x2="267.6" y2="232.7" stroke="#444" stroke-width="0.6"/>
<text transform="translate(267.6 238.1) scale(1 1.15)" font-size="4.3" text-anchor="middle" font-family="'DejaVu Sans', 'Liberation Sans', sans-serif" fill="#222" stroke="#222" stroke-width="0.12">10</text>
<line x1="191.04" y1="187.5" x2="192.54" y2="187.5" stroke="#444" stroke-width="0.6"/>
<text transform="translate(190.04 189.2) scale(1 1.15)" font-size="3.8" text-anchor="end" font-family="'DejaVu Sans', 'Liberation Sans', sans-serif" fill="#222" stroke="#222" stroke-width="0.05">1</text>
<text transform="translate(231.76 141.5) scale(1 1.15)" font-size="4.5" text-anchor="middle" font-family="'DejaVu Sans', 'Liberation Sans', sans-serif" fill="#222" stroke="#222" stroke-width="0.12">Floors</text>
<line x1="286.5" y1="143.4" x2="286.5" y2="231.2" stroke="#dcdcdc" stroke-width="0.6"/>
<line x1="306.23" y1="143.4" x2="306.23" y2="231.2" stroke="#dcdcdc" stroke-width="0.6"/>
<line x1="325.96" y1="143.4" x2="325.96" y2="231.2" stroke="#dcdcdc" stroke-width="0.6"/>
<line x1="345.69" y1="143.4" x2="345.69" y2="231.2" stroke="#dcdcdc" stroke-width="0.6"/>
<line x1="286.5" y1="187.5" x2="294.6" y2="187.5" stroke="#4a4a4a" stroke-width="0.7"/>
<line x1="322.3" y1="187.5" x2="357.6" y2="187.5" stroke="#4a4a4a" stroke-width="0.7"/>
<line x1="286.5" y1="172.1" x2="286.5" y2="202.9" stroke="#4a4a4a" stroke-width="0.8"/>
<line x1="357.6" y1="172.1" x2="357.6" y2="202.9" stroke="#4a4a4a" stroke-width="0.8"/>
<rect x="294.6" y="156.9" width="27.7" height="61.4" fill="#90ee90" stroke="#3a3a3a" stroke-width="0.55"/>
<line x1="322.25" y1="157.2" x2="322.25" y2="218" stroke="#f0a030" stroke-width="0.65"/>
<line x1="283.01" y1="143.03" x2="283.01" y2="231.57" stroke="#6a6a6a" stroke-width="0.9"/>
<line x1="361.46" y1="143.03" x2="361.46" y2="231.57" stroke="#6a6a6a" stroke-width="0.9"/>
<line x1="282.56" y1="143.4" x2="361.91" y2="143.4" stroke="#7a7a7a" stroke-width="0.75"/>
<line x1="282.56" y1="231.2" x2="361.91" y2="231.2" stroke="#7a7a7a" stroke-width="0.75"/>
<line x1="286.5" y1="231.2" x2="286.5" y2="232.7" stroke="#444" stroke-width="0.6"/>
<text transform="translate(286.5 238.1) scale(1 1.15)" font-size="4.3" text-anchor="middle" font-family="'DejaVu Sans', 'Liberation Sans', sans-serif" fill="#222" stroke="#222" stroke-width="0.12">0</text>
<line x1="306.23" y1="231.2" x2="306.23" y2="232.7" stroke="#444" stroke-width="0.6"/>
<text transform="translate(306.23 238.1) scale(1 1.15)" font-size="4.3" text-anchor="middle" font-family="'DejaVu Sans', 'Liberation Sans', sans-serif" fill="#222" stroke="#222" stroke-width="0.12">50</text>
<line x1="325.96" y1="231.2" x2="325.96" y2="232.7" stroke="#444" stroke-width="0.6"/>
<text transform="translate(325.96 238.1) scale(1 1.15)" font-size="4.3" text-anchor="middle" font-family="'DejaVu Sans', 'Liberation Sans', sans-serif" fill="#222" stroke="#222" stroke-width="0.12">100</text>
<line x1="345.69" y1="231.2" x2="345.69" y2="232.7" stroke="#444" stroke-width="0.6"/>
<text transform="translate(345.69 238.1) scale(1 1.15)" font-size="4.3" text-anchor="middle" font-family="'DejaVu Sans', 'Liberation Sans', sans-serif" fill="#222" stroke="#222" stroke-width="0.12">150</text>
<line x1="281.51" y1="187.5" x2="283.01" y2="187.5" stroke="#444" stroke-width="0.6"/>
<text transform="translate(280.51 189.2) scale(1 1.15)" font-size="3.8" text-anchor="end" font-family="'DejaVu Sans', 'Liberation Sans', sans-serif" fill="#222" stroke="#222" stroke-width="0.05">1</text>
<text transform="translate(322.24 141.5) scale(1 1.15)" font-size="4.5" text-anchor="middle" font-family="'DejaVu Sans', 'Liberation Sans', sans-serif" fill="#222" stroke="#222" stroke-width="0.12">Orientation_deg</text>
<line x1="379.4" y1="143.4" x2="379.4" y2="231.2" stroke="#dcdcdc" stroke-width="0.6"/>
<line x1="397.4" y1="143.4" x2="397.4" y2="231.2" stroke="#dcdcdc" stroke-width="0.6"/>
<line x1="415.4" y1="143.4" x2="415.4" y2="231.2" stroke="#dcdcdc" stroke-width="0.6"/>
<line x1="433.4" y1="143.4" x2="433.4" y2="231.2" stroke="#dcdcdc" stroke-width="0.6"/>
<line x1="451.4" y1="143.4" x2="451.4" y2="231.2" stroke="#dcdcdc" stroke-width="0.6"/>
<line x1="376.8" y1="187.5" x2="391.2" y2="187.5" stroke="#4a4a4a" stroke-width="0.7"/>
<line x1="412" y1="187.5" x2="441.3" y2="187.5" stroke="#4a4a4a" stroke-width="0.7"/>
<line x1="376.8" y1="172.1" x2="376.8" y2="202.9" stroke="#4a4a4a" stroke-width="0.8"/>
<line x1="441.3" y1="172.1" x2="441.3" y2="202.9" stroke="#4a4a4a" stroke-width="0.8"/>
<rect x="391.2" y="156.9" width="20.8" height="61.4" fill="#90ee90" stroke="#3a3a3a" stroke-width="0.55"/>
<line x1="403.8" y1="157.2" x2="403.8" y2="218" stroke="#f0a030" stroke-width="0.65"/>
<circle cx="442.3" cy="187.5" r="1.25" fill="none" stroke="#444" stroke-width="0.5"/>
<circle cx="443.2" cy="187.5" r="1.25" fill="none" stroke="#444" stroke-width="0.5"/>
<circle cx="444.1" cy="187.5" r="1.25" fill="none" stroke="#444" stroke-width="0.5"/>
<circle cx="446.1" cy="187.5" r="1.25" fill="none" stroke="#444" stroke-width="0.5"/>
<circle cx="448.4" cy="187.5" r="1.25" fill="none" stroke="#444" stroke-width="0.5"/>
<line x1="373.48" y1="143.03" x2="373.48" y2="231.57" stroke="#6a6a6a" stroke-width="0.9"/>
<line x1="451.93" y1="143.03" x2="451.93" y2="231.57" stroke="#6a6a6a" stroke-width="0.9"/>
<line x1="373.03" y1="143.4" x2="452.38" y2="143.4" stroke="#7a7a7a" stroke-width="0.75"/>
<line x1="373.03" y1="231.2" x2="452.38" y2="231.2" stroke="#7a7a7a" stroke-width="0.75"/>
<line x1="379.4" y1="231.2" x2="379.4" y2="232.7" stroke="#444" stroke-width="0.6"/>
<text transform="translate(379.4 238.1) scale(1 1.15)" font-size="4.3" text-anchor="middle" font-family="'DejaVu Sans', 'Liberation Sans', sans-serif" fill="#222" stroke="#222" stroke-width="0.12">180</text>
<line x1="397.4" y1="231.2" x2="397.4" y2="232.7" stroke="#444" stroke-width="0.6"/>
<text transform="translate(397.4 238.1) scale(1 1.15)" font-size="4.3" text-anchor="middle" font-family="'DejaVu Sans', 'Liberation Sans', sans-serif" fill="#222" stroke="#222" stroke-width="0.12">200</text>
<line x1="415.4" y1="231.2" x2="415.4" y2="232.7" stroke="#444" stroke-width="0.6"/>
<text transform="translate(415.4 238.1) scale(1 1.15)" font-size="4.3" text-anchor="middle" font-family="'DejaVu Sans', 'Liberation Sans', sans-serif" fill="#222" stroke="#222" stroke-width="0.12">220</text>
<line x1="433.4" y1="231.2" x2="433.4" y2="232.7" stroke="#444" stroke-width="0.6"/>
<text transform="translate(433.4 238.1) scale(1 1.15)" font-size="4.3" text-anchor="middle" font-family="'DejaVu Sans', 'Liberation Sans', sans-serif" fill="#222" stroke="#222" stroke-width="0.12">240</text>
<line x1="451.4" y1="231.2" x2="451.4" y2="232.7" stroke="#444" stroke-width="0.6"/>
<text transform="translate(451.4 238.1) scale(1 1.15)" font-size="4.3" text-anchor="middle" font-family="'DejaVu Sans', 'Liberation Sans', sans-serif" fill="#222" stroke="#222" stroke-width="0.12">260</text>
<line x1="371.98" y1="187.5" x2="373.48" y2="187.5" stroke="#444" stroke-width="0.6"/>
<text transform="translate(370.98 189.2) scale(1 1.15)" font-size="3.8" text-anchor="end" font-family="'DejaVu Sans', 'Liberation Sans', sans-serif" fill="#222" stroke="#222" stroke-width="0.05">1</text>
<text transform="translate(412.71 141.5) scale(1 1.15)" font-size="4.5" text-anchor="middle" font-family="'DejaVu Sans', 'Liberation Sans', sans-serif" fill="#222" stroke="#222" stroke-width="0.12">Target_EUI</text>
<line x1="466.8" y1="143.4" x2="466.8" y2="231.2" stroke="#dcdcdc" stroke-width="0.6"/>
<line x1="489.05" y1="143.4" x2="489.05" y2="231.2" stroke="#dcdcdc" stroke-width="0.6"/>
<line x1="511.3" y1="143.4" x2="511.3" y2="231.2" stroke="#dcdcdc" stroke-width="0.6"/>
<line x1="533.55" y1="143.4" x2="533.55" y2="231.2" stroke="#dcdcdc" stroke-width="0.6"/>
<line x1="467.3" y1="187.5" x2="482.5" y2="187.5" stroke="#4a4a4a" stroke-width="0.7"/>
<line x1="508.2" y1="187.5" x2="538.5" y2="187.5" stroke="#4a4a4a" stroke-width="0.7"/>
<line x1="467.3" y1="172.1" x2="467.3" y2="202.9" stroke="#4a4a4a" stroke-width="0.8"/>
<line x1="538.5" y1="172.1" x2="538.5" y2="202.9" stroke="#4a4a4a" stroke-width="0.8"/>
<rect x="482.5" y="156.9" width="25.7" height="61.4" fill="#ffa500" stroke="#3a3a3a" stroke-width="0.55"/>
<line x1="493.5" y1="157.2" x2="493.5" y2="218" stroke="#ff9400" stroke-width="0.65"/>
<line x1="463.95" y1="143.03" x2="463.95" y2="231.57" stroke="#6a6a6a" stroke-width="0.9"/>
<line x1="542.4" y1="143.03" x2="542.4" y2="231.57" stroke="#6a6a6a" stroke-width="0.9"/>
<line x1="463.5" y1="143.4" x2="542.85" y2="143.4" stroke="#7a7a7a" stroke-width="0.75"/>
<line x1="463.5" y1="231.2" x2="542.85" y2="231.2" stroke="#7a7a7a" stroke-width="0.75"/>
<line x1="466.8" y1="231.2" x2="466.8" y2="232.7" stroke="#444" stroke-width="0.6"/>
<text transform="translate(466.8 238.1) scale(1 1.15)" font-size="4.3" text-anchor="middle" font-family="'DejaVu Sans', 'Liberation Sans', sans-serif" fill="#222" stroke="#222" stroke-width="0.12">100</text>
<line x1="489.05" y1="231.2" x2="489.05" y2="232.7" stroke="#444" stroke-width="0.6"/>
<text transform="translate(489.05 238.1) scale(1 1.15)" font-size="4.3" text-anchor="middle" font-family="'DejaVu Sans', 'Liberation Sans', sans-serif" fill="#222" stroke="#222" stroke-width="0.12">200</text>
<line x1="511.3" y1="231.2" x2="511.3" y2="232.7" stroke="#444" stroke-width="0.6"/>
<text transform="translate(511.3 238.1) scale(1 1.15)" font-size="4.3" text-anchor="middle" font-family="'DejaVu Sans', 'Liberation Sans', sans-serif" fill="#222" stroke="#222" stroke-width="0.12">300</text>
<line x1="533.55" y1="231.2" x2="533.55" y2="232.7" stroke="#444" stroke-width="0.6"/>
<text transform="translate(533.55 238.1) scale(1 1.15)" font-size="4.3" text-anchor="middle" font-family="'DejaVu Sans', 'Liberation Sans', sans-serif" fill="#222" stroke="#222" stroke-width="0.12">400</text>
<line x1="462.45" y1="187.5" x2="463.95" y2="187.5" stroke="#444" stroke-width="0.6"/>
<text transform="translate(461.45 189.2) scale(1 1.15)" font-size="3.8" text-anchor="end" font-family="'DejaVu Sans', 'Liberation Sans', sans-serif" fill="#222" stroke="#222" stroke-width="0.05">1</text>
<text transform="translate(503.18 141.5) scale(1 1.15)" font-size="4.5" text-anchor="middle" font-family="'DejaVu Sans', 'Liberation Sans', sans-serif" fill="#222" stroke="#222" stroke-width="0.12">Shape_Coefficient</text>
<rect x="18.45" y="331.19" width="3.43" height="16.06" fill="#76a7d8" stroke="#3f5f80" stroke-width="0.5"/>
<rect x="21.88" y="333.19" width="3.43" height="14.06" fill="#76a7d8" stroke="#3f5f80" stroke-width="0.5"/>
<rect x="25.31" y="315.12" width="3.43" height="32.13" fill="#76a7d8" stroke="#3f5f80" stroke-width="0.5"/>
<rect x="28.74" y="282.99" width="3.43" height="64.26" fill="#76a7d8" stroke="#3f5f80" stroke-width="0.5"/>
<rect x="32.17" y="287.01" width="3.43" height="60.24" fill="#76a7d8" stroke="#3f5f80" stroke-width="0.5"/>
<rect x="35.6" y="289.02" width="3.43" height="58.23" fill="#76a7d8" stroke="#3f5f80" stroke-width="0.5"/>
<rect x="39.03" y="309.1" width="3.43" height="38.15" fill="#76a7d8" stroke="#3f5f80" stroke-width="0.5"/>
<rect x="42.46" y="311.11" width="3.43" height="36.14" fill="#76a7d8" stroke="#3f5f80" stroke-width="0.5"/>
<rect x="45.89" y="317.13" width="3.43" height="30.12" fill="#76a7d8" stroke="#3f5f80" stroke-width="0.5"/>
<rect x="49.32" y="317.13" width="3.43" height="30.12" fill="#76a7d8" stroke="#3f5f80" stroke-width="0.5"/>
<rect x="52.75" y="329.18" width="3.43" height="18.07" fill="#76a7d8" stroke="#3f5f80" stroke-width="0.5"/>
<rect x="56.18" y="331.19" width="3.43" height="16.06" fill="#76a7d8" stroke="#3f5f80" stroke-width="0.5"/>
<rect x="59.61" y="345.24" width="3.43" height="2.01" fill="#76a7d8" stroke="#3f5f80" stroke-width="0.5"/>
<rect x="66.47" y="345.24" width="3.43" height="2.01" fill="#76a7d8" stroke="#3f5f80" stroke-width="0.5"/>
<rect x="69.9" y="345.24" width="3.43" height="2.01" fill="#76a7d8" stroke="#3f5f80" stroke-width="0.5"/>
<rect x="73.33" y="345.24" width="3.43" height="2.01" fill="#76a7d8" stroke="#3f5f80" stroke-width="0.5"/>
<rect x="83.62" y="345.24" width="3.43" height="2.01" fill="#76a7d8" stroke="#3f5f80" stroke-width="0.5"/>
<line x1="15.5" y1="279.07" x2="15.5" y2="347.62" stroke="#6a6a6a" stroke-width="0.9"/>
<line x1="90.5" y1="279.07" x2="90.5" y2="347.62" stroke="#6a6a6a" stroke-width="0.9"/>
<line x1="15.05" y1="279.45" x2="90.95" y2="279.45" stroke="#7a7a7a" stroke-width="0.75"/>
<line x1="15.05" y1="347.25" x2="90.95" y2="347.25" stroke="#7a7a7a" stroke-width="0.75"/>
<line x1="14" y1="347.25" x2="15.5" y2="347.25" stroke="#444" stroke-width="0.6"/>
<text transform="translate(12.8 348.85) scale(1 1.05)" font-size="4.3" text-anchor="end" font-family="'DejaVu Sans', 'Liberation Sans', sans-serif" fill="#222" stroke="#222" stroke-width="0.12">0</text>
<line x1="14" y1="337.21" x2="15.5" y2="337.21" stroke="#444" stroke-width="0.6"/>
<text transform="translate(12.8 338.81) scale(1 1.05)" font-size="4.3" text-anchor="end" font-family="'DejaVu Sans', 'Liberation Sans', sans-serif" fill="#222" stroke="#222" stroke-width="0.12">5</text>
<line x1="14" y1="327.17" x2="15.5" y2="327.17" stroke="#444" stroke-width="0.6"/>
<text transform="translate(12.8 328.77) scale(1 1.05)" font-size="4.3" text-anchor="end" font-family="'DejaVu Sans', 'Liberation Sans', sans-serif" fill="#222" stroke="#222" stroke-width="0.12">10</text>
<line x1="14" y1="317.13" x2="15.5" y2="317.13" stroke="#444" stroke-width="0.6"/>
<text transform="translate(12.8 318.73) scale(1 1.05)" font-size="4.3" text-anchor="end" font-family="'DejaVu Sans', 'Liberation Sans', sans-serif" fill="#222" stroke="#222" stroke-width="0.12">15</text>
<line x1="14" y1="307.09" x2="15.5" y2="307.09" stroke="#444" stroke-width="0.6"/>
<text transform="translate(12.8 308.69) scale(1 1.05)" font-size="4.3" text-anchor="end" font-family="'DejaVu Sans', 'Liberation Sans', sans-serif" fill="#222" stroke="#222" stroke-width="0.12">20</text>
<line x1="14" y1="297.05" x2="15.5" y2="297.05" stroke="#444" stroke-width="0.6"/>
<text transform="translate(12.8 298.65) scale(1 1.05)" font-size="4.3" text-anchor="end" font-family="'DejaVu Sans', 'Liberation Sans', sans-serif" fill="#222" stroke="#222" stroke-width="0.12">25</text>
<line x1="14" y1="287.01" x2="15.5" y2="287.01" stroke="#444" stroke-width="0.6"/>
<text transform="translate(12.8 288.61) scale(1 1.05)" font-size="4.3" text-anchor="end" font-family="'DejaVu Sans', 'Liberation Sans', sans-serif" fill="#222" stroke="#222" stroke-width="0.12">30</text>
<line x1="38.6" y1="347.25" x2="38.6" y2="348.75" stroke="#444" stroke-width="0.6"/>
<text transform="translate(38.6 353.8) scale(1 1.05)" font-size="4.3" text-anchor="middle" font-family="'DejaVu Sans', 'Liberation Sans', sans-serif" fill="#222" stroke="#222" stroke-width="0.12">5000</text>
<line x1="66.3" y1="347.25" x2="66.3" y2="348.75" stroke="#444" stroke-width="0.6"/>
<text transform="translate(66.3 353.8) scale(1 1.05)" font-size="4.3" text-anchor="middle" font-family="'DejaVu Sans', 'Liberation Sans', sans-serif" fill="#222" stroke="#222" stroke-width="0.12">10000</text>
<text x="53" y="277.3" font-size="5" text-anchor="middle" font-family="'DejaVu Sans', 'Liberation Sans', sans-serif" fill="#222" stroke="#222" stroke-width="0.12">Area_m2</text>
<rect x="109.15" y="327.42" width="3.42" height="19.83" fill="#76a7d8" stroke="#3f5f80" stroke-width="0.5"/>
<rect x="126.25" y="282.94" width="3.42" height="64.31" fill="#76a7d8" stroke="#3f5f80" stroke-width="0.5"/>
<rect x="143.35" y="309.99" width="3.42" height="37.26" fill="#76a7d8" stroke="#3f5f80" stroke-width="0.5"/>
<rect x="160.45" y="342.44" width="3.42" height="4.81" fill="#76a7d8" stroke="#3f5f80" stroke-width="0.5"/>
<rect x="174.13" y="346.05" width="3.42" height="1.2" fill="#76a7d8" stroke="#3f5f80" stroke-width="0.5"/>
<line x1="105.5" y1="279.07" x2="105.5" y2="347.62" stroke="#6a6a6a" stroke-width="0.9"/>
<line x1="180.4" y1="279.07" x2="180.4" y2="347.62" stroke="#6a6a6a" stroke-width="0.9"/>
<line x1="105.05" y1="279.45" x2="180.85" y2="279.45" stroke="#7a7a7a" stroke-width="0.75"/>
<line x1="105.05" y1="347.25" x2="180.85" y2="347.25" stroke="#7a7a7a" stroke-width="0.75"/>
<line x1="104" y1="347.25" x2="105.5" y2="347.25" stroke="#444" stroke-width="0.6"/>
<text transform="translate(102.8 348.85) scale(1 1.05)" font-size="4.3" text-anchor="end" font-family="'DejaVu Sans', 'Liberation Sans', sans-serif" fill="#222" stroke="#222" stroke-width="0.12">0</text>
<line x1="104" y1="335.23" x2="105.5" y2="335.23" stroke="#444" stroke-width="0.6"/>
<text transform="translate(102.8 336.83) scale(1 1.05)" font-size="4.3" text-anchor="end" font-family="'DejaVu Sans', 'Liberation Sans', sans-serif" fill="#222" stroke="#222" stroke-width="0.12">20</text>
<line x1="104" y1="323.21" x2="105.5" y2="323.21" stroke="#444" stroke-width="0.6"/>
<text transform="translate(102.8 324.81) scale(1 1.05)" font-size="4.3" text-anchor="end" font-family="'DejaVu Sans', 'Liberation Sans', sans-serif" fill="#222" stroke="#222" stroke-width="0.12">40</text>
<line x1="104" y1="311.19" x2="105.5" y2="311.19" stroke="#444" stroke-width="0.6"/>
<text transform="translate(102.8 312.79) scale(1 1.05)" font-size="4.3" text-anchor="end" font-family="'DejaVu Sans', 'Liberation Sans', sans-serif" fill="#222" stroke="#222" stroke-width="0.12">60</text>
<line x1="104" y1="299.17" x2="105.5" y2="299.17" stroke="#444" stroke-width="0.6"/>
<text transform="translate(102.8 300.77) scale(1 1.05)" font-size="4.3" text-anchor="end" font-family="'DejaVu Sans', 'Liberation Sans', sans-serif" fill="#222" stroke="#222" stroke-width="0.12">80</text>
<line x1="104" y1="287.15" x2="105.5" y2="287.15" stroke="#444" stroke-width="0.6"/>
<text transform="translate(102.8 288.75) scale(1 1.05)" font-size="4.3" text-anchor="end" font-family="'DejaVu Sans', 'Liberation Sans', sans-serif" fill="#222" stroke="#222" stroke-width="0.12">100</text>
<line x1="120.2" y1="347.25" x2="120.2" y2="348.75" stroke="#444" stroke-width="0.6"/>
<text transform="translate(120.2 353.8) scale(1 1.05)" font-size="4.3" text-anchor="middle" font-family="'DejaVu Sans', 'Liberation Sans', sans-serif" fill="#222" stroke="#222" stroke-width="0.12">20</text>
<line x1="148.7" y1="347.25" x2="148.7" y2="348.75" stroke="#444" stroke-width="0.6"/>
<text transform="translate(148.7 353.8) scale(1 1.05)" font-size="4.3" text-anchor="middle" font-family="'DejaVu Sans', 'Liberation Sans', sans-serif" fill="#222" stroke="#222" stroke-width="0.12">25</text>
<line x1="177.2" y1="347.25" x2="177.2" y2="348.75" stroke="#444" stroke-width="0.6"/>
<text transform="translate(177.2 353.8) scale(1 1.05)" font-size="4.3" text-anchor="middle" font-family="'DejaVu Sans', 'Liberation Sans', sans-serif" fill="#222" stroke="#222" stroke-width="0.12">30</text>
<text x="142.95" y="277.3" font-size="5" text-anchor="middle" font-family="'DejaVu Sans', 'Liberation Sans', sans-serif" fill="#222" stroke="#222" stroke-width="0.12">Height_m</text>
<rect x="199.4" y="327.42" width="3.41" height="19.83" fill="#76a7d8" stroke="#3f5f80" stroke-width="0.5"/>
<rect x="216.45" y="282.94" width="3.41" height="64.31" fill="#76a7d8" stroke="#3f5f80" stroke-width="0.5"/>
<rect x="233.5" y="309.99" width="3.41" height="37.26" fill="#76a7d8" stroke="#3f5f80" stroke-width="0.5"/>
<rect x="250.55" y="342.44" width="3.41" height="4.81" fill="#76a7d8" stroke="#3f5f80" stroke-width="0.5"/>
<rect x="264.19" y="346.05" width="3.41" height="1.2" fill="#76a7d8" stroke="#3f5f80" stroke-width="0.5"/>
<line x1="195.8" y1="279.07" x2="195.8" y2="347.62" stroke="#6a6a6a" stroke-width="0.9"/>
<line x1="270.6" y1="279.07" x2="270.6" y2="347.62" stroke="#6a6a6a" stroke-width="0.9"/>
<line x1="195.35" y1="279.45" x2="271.05" y2="279.45" stroke="#7a7a7a" stroke-width="0.75"/>
<line x1="195.35" y1="347.25" x2="271.05" y2="347.25" stroke="#7a7a7a" stroke-width="0.75"/>
<line x1="194.3" y1="347.25" x2="195.8" y2="347.25" stroke="#444" stroke-width="0.6"/>
<text transform="translate(193.1 348.85) scale(1 1.05)" font-size="4.3" text-anchor="end" font-family="'DejaVu Sans', 'Liberation Sans', sans-serif" fill="#222" stroke="#222" stroke-width="0.12">0</text>
<line x1="194.3" y1="335.23" x2="195.8" y2="335.23" stroke="#444" stroke-width="0.6"/>
<text transform="translate(193.1 336.83) scale(1 1.05)" font-size="4.3" text-anchor="end" font-family="'DejaVu Sans', 'Liberation Sans', sans-serif" fill="#222" stroke="#222" stroke-width="0.12">20</text>
<line x1="194.3" y1="323.21" x2="195.8" y2="323.21" stroke="#444" stroke-width="0.6"/>
<text transform="translate(193.1 324.81) scale(1 1.05)" font-size="4.3" text-anchor="end" font-family="'DejaVu Sans', 'Liberation Sans', sans-serif" fill="#222" stroke="#222" stroke-width="0.12">40</text>
<line x1="194.3" y1="311.19" x2="195.8" y2="311.19" stroke="#444" stroke-width="0.6"/>
<text transform="translate(193.1 312.79) scale(1 1.05)" font-size="4.3" text-anchor="end" font-family="'DejaVu Sans', 'Liberation Sans', sans-serif" fill="#222" stroke="#222" stroke-width="0.12">60</text>
<line x1="194.3" y1="299.17" x2="195.8" y2="299.17" stroke="#444" stroke-width="0.6"/>
<text transform="translate(193.1 300.77) scale(1 1.05)" font-size="4.3" text-anchor="end" font-family="'DejaVu Sans', 'Liberation Sans', sans-serif" fill="#222" stroke="#222" stroke-width="0.12">80</text>
<line x1="194.3" y1="287.15" x2="195.8" y2="287.15" stroke="#444" stroke-width="0.6"/>
<text transform="translate(193.1 288.75) scale(1 1.05)" font-size="4.3" text-anchor="end" font-family="'DejaVu Sans', 'Liberation Sans', sans-serif" fill="#222" stroke="#222" stroke-width="0.12">100</text>
<line x1="199.4" y1="347.25" x2="199.4" y2="348.75" stroke="#444" stroke-width="0.6"/>
<text transform="translate(199.4 353.8) scale(1 1.05)" font-size="4.3" text-anchor="middle" font-family="'DejaVu Sans', 'Liberation Sans', sans-serif" fill="#222" stroke="#222" stroke-width="0.12">6</text>
<line x1="216.48" y1="347.25" x2="216.48" y2="348.75" stroke="#444" stroke-width="0.6"/>
<text transform="translate(216.48 353.8) scale(1 1.05)" font-size="4.3" text-anchor="middle" font-family="'DejaVu Sans', 'Liberation Sans', sans-serif" fill="#222" stroke="#222" stroke-width="0.12">7</text>
<line x1="233.56" y1="347.25" x2="233.56" y2="348.75" stroke="#444" stroke-width="0.6"/>
<text transform="translate(233.56 353.8) scale(1 1.05)" font-size="4.3" text-anchor="middle" font-family="'DejaVu Sans', 'Liberation Sans', sans-serif" fill="#222" stroke="#222" stroke-width="0.12">8</text>
<line x1="250.64" y1="347.25" x2="250.64" y2="348.75" stroke="#444" stroke-width="0.6"/>
<text transform="translate(250.64 353.8) scale(1 1.05)" font-size="4.3" text-anchor="middle" font-family="'DejaVu Sans', 'Liberation Sans', sans-serif" fill="#222" stroke="#222" stroke-width="0.12">9</text>
<line x1="267.72" y1="347.25" x2="267.72" y2="348.75" stroke="#444" stroke-width="0.6"/>
<text transform="translate(267.72 353.8) scale(1 1.05)" font-size="4.3" text-anchor="middle" font-family="'DejaVu Sans', 'Liberation Sans', sans-serif" fill="#222" stroke="#222" stroke-width="0.12">10</text>
<text x="233.2" y="277.3" font-size="5" text-anchor="middle" font-family="'DejaVu Sans', 'Liberation Sans', sans-serif" fill="#222" stroke="#222" stroke-width="0.12">Floors</text>
<rect x="289.5" y="310.49" width="3.41" height="36.77" fill="#76a7d8" stroke="#3f5f80" stroke-width="0.5"/>
<rect x="292.91" y="339.56" width="3.41" height="7.7" fill="#76a7d8" stroke="#3f5f80" stroke-width="0.5"/>
<rect x="296.32" y="343.83" width="3.41" height="3.42" fill="#76a7d8" stroke="#3f5f80" stroke-width="0.5"/>
<rect x="313.37" y="342.12" width="3.41" height="5.13" fill="#76a7d8" stroke="#3f5f80" stroke-width="0.5"/>
<rect x="316.78" y="342.98" width="3.41" height="4.28" fill="#76a7d8" stroke="#3f5f80" stroke-width="0.5"/>
<rect x="320.19" y="319.04" width="3.41" height="28.21" fill="#76a7d8" stroke="#3f5f80" stroke-width="0.5"/>
<rect x="323.6" y="283.12" width="3.41" height="64.12" fill="#76a7d8" stroke="#3f5f80" stroke-width="0.5"/>
<rect x="327.01" y="345.54" width="3.41" height="1.71" fill="#76a7d8" stroke="#3f5f80" stroke-width="0.5"/>
<rect x="330.42" y="345.54" width="3.41" height="1.71" fill="#76a7d8" stroke="#3f5f80" stroke-width="0.5"/>
<rect x="347.47" y="345.54" width="3.41" height="1.71" fill="#76a7d8" stroke="#3f5f80" stroke-width="0.5"/>
<rect x="350.88" y="345.54" width="3.41" height="1.71" fill="#76a7d8" stroke="#3f5f80" stroke-width="0.5"/>
<rect x="354.29" y="323.31" width="3.41" height="23.94" fill="#76a7d8" stroke="#3f5f80" stroke-width="0.5"/>
<line x1="286.4" y1="279.07" x2="286.4" y2="347.62" stroke="#6a6a6a" stroke-width="0.9"/>
<line x1="360.7" y1="279.07" x2="360.7" y2="347.62" stroke="#6a6a6a" stroke-width="0.9"/>
<line x1="285.95" y1="279.45" x2="361.15" y2="279.45" stroke="#7a7a7a" stroke-width="0.75"/>
<line x1="285.95" y1="347.25" x2="361.15" y2="347.25" stroke="#7a7a7a" stroke-width="0.75"/>
<line x1="284.9" y1="347.25" x2="286.4" y2="347.25" stroke="#444" stroke-width="0.6"/>
<text transform="translate(283.7 348.85) scale(1 1.05)" font-size="4.3" text-anchor="end" font-family="'DejaVu Sans', 'Liberation Sans', sans-serif" fill="#222" stroke="#222" stroke-width="0.12">0</text>
<line x1="284.9" y1="338.7" x2="286.4" y2="338.7" stroke="#444" stroke-width="0.6"/>
<text transform="translate(283.7 340.3) scale(1 1.05)" font-size="4.3" text-anchor="end" font-family="'DejaVu Sans', 'Liberation Sans', sans-serif" fill="#222" stroke="#222" stroke-width="0.12">10</text>
<line x1="284.9" y1="330.15" x2="286.4" y2="330.15" stroke="#444" stroke-width="0.6"/>
<text transform="translate(283.7 331.75) scale(1 1.05)" font-size="4.3" text-anchor="end" font-family="'DejaVu Sans', 'Liberation Sans', sans-serif" fill="#222" stroke="#222" stroke-width="0.12">20</text>
<line x1="284.9" y1="321.6" x2="286.4" y2="321.6" stroke="#444" stroke-width="0.6"/>
<text transform="translate(283.7 323.2) scale(1 1.05)" font-size="4.3" text-anchor="end" font-family="'DejaVu Sans', 'Liberation Sans', sans-serif" fill="#222" stroke="#222" stroke-width="0.12">30</text>
<line x1="284.9" y1="313.05" x2="286.4" y2="313.05" stroke="#444" stroke-width="0.6"/>
<text transform="translate(283.7 314.65) scale(1 1.05)" font-size="4.3" text-anchor="end" font-family="'DejaVu Sans', 'Liberation Sans', sans-serif" fill="#222" stroke="#222" stroke-width="0.12">40</text>
<line x1="284.9" y1="304.5" x2="286.4" y2="304.5" stroke="#444" stroke-width="0.6"/>
<text transform="translate(283.7 306.1) scale(1 1.05)" font-size="4.3" text-anchor="end" font-family="'DejaVu Sans', 'Liberation Sans', sans-serif" fill="#222" stroke="#222" stroke-width="0.12">50</text>
<line x1="284.9" y1="295.95" x2="286.4" y2="295.95" stroke="#444" stroke-width="0.6"/>
<text transform="translate(283.7 297.55) scale(1 1.05)" font-size="4.3" text-anchor="end" font-family="'DejaVu Sans', 'Liberation Sans', sans-serif" fill="#222" stroke="#222" stroke-width="0.12">60</text>
<line x1="284.9" y1="287.4" x2="286.4" y2="287.4" stroke="#444" stroke-width="0.6"/>
<text transform="translate(283.7 289) scale(1 1.05)" font-size="4.3" text-anchor="end" font-family="'DejaVu Sans', 'Liberation Sans', sans-serif" fill="#222" stroke="#222" stroke-width="0.12">70</text>
<line x1="289.3" y1="347.25" x2="289.3" y2="348.75" stroke="#444" stroke-width="0.6"/>
<text transform="translate(289.3 353.8) scale(1 1.05)" font-size="4.3" text-anchor="middle" font-family="'DejaVu Sans', 'Liberation Sans', sans-serif" fill="#222" stroke="#222" stroke-width="0.12">0</text>
<line x1="308.5" y1="347.25" x2="308.5" y2="348.75" stroke="#444" stroke-width="0.6"/>
<text transform="translate(308.5 353.8) scale(1 1.05)" font-size="4.3" text-anchor="middle" font-family="'DejaVu Sans', 'Liberation Sans', sans-serif" fill="#222" stroke="#222" stroke-width="0.12">50</text>
<line x1="327.7" y1="347.25" x2="327.7" y2="348.75" stroke="#444" stroke-width="0.6"/>
<text transform="translate(327.7 353.8) scale(1 1.05)" font-size="4.3" text-anchor="middle" font-family="'DejaVu Sans', 'Liberation Sans', sans-serif" fill="#222" stroke="#222" stroke-width="0.12">100</text>
<line x1="346.9" y1="347.25" x2="346.9" y2="348.75" stroke="#444" stroke-width="0.6"/>
<text transform="translate(346.9 353.8) scale(1 1.05)" font-size="4.3" text-anchor="middle" font-family="'DejaVu Sans', 'Liberation Sans', sans-serif" fill="#222" stroke="#222" stroke-width="0.12">150</text>
<text x="323.55" y="277.3" font-size="5" text-anchor="middle" font-family="'DejaVu Sans', 'Liberation Sans', sans-serif" fill="#222" stroke="#222" stroke-width="0.12">Orientation_deg</text>
<rect x="379.5" y="327.45" width="3.41" height="19.8" fill="#76a7d8" stroke="#3f5f80" stroke-width="0.5"/>
<rect x="382.91" y="314.25" width="3.41" height="33" fill="#76a7d8" stroke="#3f5f80" stroke-width="0.5"/>
<rect x="386.32" y="292.25" width="3.41" height="55" fill="#76a7d8" stroke="#3f5f80" stroke-width="0.5"/>
<rect x="389.73" y="294.45" width="3.41" height="52.8" fill="#76a7d8" stroke="#3f5f80" stroke-width="0.5"/>
<rect x="393.14" y="325.25" width="3.41" height="22" fill="#76a7d8" stroke="#3f5f80" stroke-width="0.5"/>
<rect x="396.55" y="290.05" width="3.41" height="57.2" fill="#76a7d8" stroke="#3f5f80" stroke-width="0.5"/>
<rect x="399.96" y="283.45" width="3.41" height="63.8" fill="#76a7d8" stroke="#3f5f80" stroke-width="0.5"/>
<rect x="403.37" y="303.25" width="3.41" height="44" fill="#76a7d8" stroke="#3f5f80" stroke-width="0.5"/>
<rect x="406.78" y="327.45" width="3.41" height="19.8" fill="#76a7d8" stroke="#3f5f80" stroke-width="0.5"/>
<rect x="410.19" y="327.45" width="3.41" height="19.8" fill="#76a7d8" stroke="#3f5f80" stroke-width="0.5"/>
<rect x="413.6" y="325.25" width="3.41" height="22" fill="#76a7d8" stroke="#3f5f80" stroke-width="0.5"/>
<rect x="417.01" y="336.25" width="3.41" height="11" fill="#76a7d8" stroke="#3f5f80" stroke-width="0.5"/>
<rect x="420.42" y="329.65" width="3.41" height="17.6" fill="#76a7d8" stroke="#3f5f80" stroke-width="0.5"/>
<rect x="423.83" y="345.05" width="3.41" height="2.2" fill="#76a7d8" stroke="#3f5f80" stroke-width="0.5"/>
<rect x="427.24" y="334.05" width="3.41" height="13.2" fill="#76a7d8" stroke="#3f5f80" stroke-width="0.5"/>
<rect x="430.65" y="345.05" width="3.41" height="2.2" fill="#76a7d8" stroke="#3f5f80" stroke-width="0.5"/>
<rect x="434.06" y="345.05" width="3.41" height="2.2" fill="#76a7d8" stroke="#3f5f80" stroke-width="0.5"/>
<rect x="440.88" y="345.05" width="3.41" height="2.2" fill="#76a7d8" stroke="#3f5f80" stroke-width="0.5"/>
<rect x="444.29" y="342.85" width="3.41" height="4.4" fill="#76a7d8" stroke="#3f5f80" stroke-width="0.5"/>
<line x1="376.4" y1="279.07" x2="376.4" y2="347.62" stroke="#6a6a6a" stroke-width="0.9"/>
<line x1="450.8" y1="279.07" x2="450.8" y2="347.62" stroke="#6a6a6a" stroke-width="0.9"/>
<line x1="375.95" y1="279.45" x2="451.25" y2="279.45" stroke="#7a7a7a" stroke-width="0.75"/>
<line x1="375.95" y1="347.25" x2="451.25" y2="347.25" stroke="#7a7a7a" stroke-width="0.75"/>
<line x1="374.9" y1="347.25" x2="376.4" y2="347.25" stroke="#444" stroke-width="0.6"/>
<text transform="translate(373.7 348.85) scale(1 1.05)" font-size="4.3" text-anchor="end" font-family="'DejaVu Sans', 'Liberation Sans', sans-serif" fill="#222" stroke="#222" stroke-width="0.12">0</text>
<line x1="374.9" y1="336.25" x2="376.4" y2="336.25" stroke="#444" stroke-width="0.6"/>
<text transform="translate(373.7 337.85) scale(1 1.05)" font-size="4.3" text-anchor="end" font-family="'DejaVu Sans', 'Liberation Sans', sans-serif" fill="#222" stroke="#222" stroke-width="0.12">5</text>
<line x1="374.9" y1="325.25" x2="376.4" y2="325.25" stroke="#444" stroke-width="0.6"/>
<text transform="translate(373.7 326.85) scale(1 1.05)" font-size="4.3" text-anchor="end" font-family="'DejaVu Sans', 'Liberation Sans', sans-serif" fill="#222" stroke="#222" stroke-width="0.12">10</text>
<line x1="374.9" y1="314.25" x2="376.4" y2="314.25" stroke="#444" stroke-width="0.6"/>
<text transform="translate(373.7 315.85) scale(1 1.05)" font-size="4.3" text-anchor="end" font-family="'DejaVu Sans', 'Liberation Sans', sans-serif" fill="#222" stroke="#222" stroke-width="0.12">15</text>
<line x1="374.9" y1="303.25" x2="376.4" y2="303.25" stroke="#444" stroke-width="0.6"/>
<text transform="translate(373.7 304.85) scale(1 1.05)" font-size="4.3" text-anchor="end" font-family="'DejaVu Sans', 'Liberation Sans', sans-serif" fill="#222" stroke="#222" stroke-width="0.12">20</text>
<line x1="374.9" y1="292.25" x2="376.4" y2="292.25" stroke="#444" stroke-width="0.6"/>
<text transform="translate(373.7 293.85) scale(1 1.05)" font-size="4.3" text-anchor="end" font-family="'DejaVu Sans', 'Liberation Sans', sans-serif" fill="#222" stroke="#222" stroke-width="0.12">25</text>
<line x1="374.9" y1="281.25" x2="376.4" y2="281.25" stroke="#444" stroke-width="0.6"/>
<text transform="translate(373.7 282.85) scale(1 1.05)" font-size="4.3" text-anchor="end" font-family="'DejaVu Sans', 'Liberation Sans', sans-serif" fill="#222" stroke="#222" stroke-width="0.12">30</text>
<line x1="378.5" y1="347.25" x2="378.5" y2="348.75" stroke="#444" stroke-width="0.6"/>
<text transform="translate(378.5 353.8) scale(1 1.05)" font-size="4.3" text-anchor="middle" font-family="'DejaVu Sans', 'Liberation Sans', sans-serif" fill="#222" stroke="#222" stroke-width="0.12">175</text>
<line x1="395.1" y1="347.25" x2="395.1" y2="348.75" stroke="#444" stroke-width="0.6"/>
<text transform="translate(395.1 353.8) scale(1 1.05)" font-size="4.3" text-anchor="middle" font-family="'DejaVu Sans', 'Liberation Sans', sans-serif" fill="#222" stroke="#222" stroke-width="0.12">200</text>
<line x1="411.7" y1="347.25" x2="411.7" y2="348.75" stroke="#444" stroke-width="0.6"/>
<text transform="translate(411.7 353.8) scale(1 1.05)" font-size="4.3" text-anchor="middle" font-family="'DejaVu Sans', 'Liberation Sans', sans-serif" fill="#222" stroke="#222" stroke-width="0.12">225</text>
<line x1="428.3" y1="347.25" x2="428.3" y2="348.75" stroke="#444" stroke-width="0.6"/>
<text transform="translate(428.3 353.8) scale(1 1.05)" font-size="4.3" text-anchor="middle" font-family="'DejaVu Sans', 'Liberation Sans', sans-serif" fill="#222" stroke="#222" stroke-width="0.12">250</text>
<line x1="444.9" y1="347.25" x2="444.9" y2="348.75" stroke="#444" stroke-width="0.6"/>
<text transform="translate(444.9 353.8) scale(1 1.05)" font-size="4.3" text-anchor="middle" font-family="'DejaVu Sans', 'Liberation Sans', sans-serif" fill="#222" stroke="#222" stroke-width="0.12">275</text>
<text x="413.6" y="277.3" font-size="5" text-anchor="middle" font-family="'DejaVu Sans', 'Liberation Sans', sans-serif" fill="#222" stroke="#222" stroke-width="0.12">Target_EUI</text>
<rect x="470.2" y="336.25" width="3.41" height="11" fill="#76a7d8" stroke="#3f5f80" stroke-width="0.5"/>
<rect x="473.61" y="334.05" width="3.41" height="13.2" fill="#76a7d8" stroke="#3f5f80" stroke-width="0.5"/>
<rect x="477.02" y="316.45" width="3.41" height="30.8" fill="#76a7d8" stroke="#3f5f80" stroke-width="0.5"/>
<rect x="480.43" y="294.45" width="3.41" height="52.8" fill="#76a7d8" stroke="#3f5f80" stroke-width="0.5"/>
<rect x="483.84" y="283.45" width="3.41" height="63.8" fill="#76a7d8" stroke="#3f5f80" stroke-width="0.5"/>
<rect x="487.25" y="292.25" width="3.41" height="55" fill="#76a7d8" stroke="#3f5f80" stroke-width="0.5"/>
<rect x="490.66" y="292.25" width="3.41" height="55" fill="#76a7d8" stroke="#3f5f80" stroke-width="0.5"/>
<rect x="494.07" y="314.25" width="3.41" height="33" fill="#76a7d8" stroke="#3f5f80" stroke-width="0.5"/>
<rect x="497.48" y="301.05" width="3.41" height="46.2" fill="#76a7d8" stroke="#3f5f80" stroke-width="0.5"/>
<rect x="500.89" y="318.65" width="3.41" height="28.6" fill="#76a7d8" stroke="#3f5f80" stroke-width="0.5"/>
<rect x="504.3" y="318.65" width="3.41" height="28.6" fill="#76a7d8" stroke="#3f5f80" stroke-width="0.5"/>
<rect x="507.71" y="331.85" width="3.41" height="15.4" fill="#76a7d8" stroke="#3f5f80" stroke-width="0.5"/>
<rect x="511.12" y="336.25" width="3.41" height="11" fill="#76a7d8" stroke="#3f5f80" stroke-width="0.5"/>
<rect x="514.53" y="336.25" width="3.41" height="11" fill="#76a7d8" stroke="#3f5f80" stroke-width="0.5"/>
<rect x="517.94" y="342.85" width="3.41" height="4.4" fill="#76a7d8" stroke="#3f5f80" stroke-width="0.5"/>
<rect x="531.58" y="345.05" width="3.41" height="2.2" fill="#76a7d8" stroke="#3f5f80" stroke-width="0.5"/>
<rect x="534.99" y="345.05" width="3.41" height="2.2" fill="#76a7d8" stroke="#3f5f80" stroke-width="0.5"/>
<line x1="466.4" y1="279.07" x2="466.4" y2="347.62" stroke="#6a6a6a" stroke-width="0.9"/>
<line x1="541.2" y1="279.07" x2="541.2" y2="347.62" stroke="#6a6a6a" stroke-width="0.9"/>
<line x1="465.95" y1="279.45" x2="541.65" y2="279.45" stroke="#7a7a7a" stroke-width="0.75"/>
<line x1="465.95" y1="347.25" x2="541.65" y2="347.25" stroke="#7a7a7a" stroke-width="0.75"/>
<line x1="464.9" y1="347.25" x2="466.4" y2="347.25" stroke="#444" stroke-width="0.6"/>
<text transform="translate(463.7 348.85) scale(1 1.05)" font-size="4.3" text-anchor="end" font-family="'DejaVu Sans', 'Liberation Sans', sans-serif" fill="#222" stroke="#222" stroke-width="0.12">0</text>
<line x1="464.9" y1="336.25" x2="466.4" y2="336.25" stroke="#444" stroke-width="0.6"/>
<text transform="translate(463.7 337.85) scale(1 1.05)" font-size="4.3" text-anchor="end" font-family="'DejaVu Sans', 'Liberation Sans', sans-serif" fill="#222" stroke="#222" stroke-width="0.12">5</text>
<line x1="464.9" y1="325.25" x2="466.4" y2="325.25" stroke="#444" stroke-width="0.6"/>
<text transform="translate(463.7 326.85) scale(1 1.05)" font-size="4.3" text-anchor="end" font-family="'DejaVu Sans', 'Liberation Sans', sans-serif" fill="#222" stroke="#222" stroke-width="0.12">10</text>
<line x1="464.9" y1="314.25" x2="466.4" y2="314.25" stroke="#444" stroke-width="0.6"/>
<text transform="translate(463.7 315.85) scale(1 1.05)" font-size="4.3" text-anchor="end" font-family="'DejaVu Sans', 'Liberation Sans', sans-serif" fill="#222" stroke="#222" stroke-width="0.12">15</text>
<line x1="464.9" y1="303.25" x2="466.4" y2="303.25" stroke="#444" stroke-width="0.6"/>
<text transform="translate(463.7 304.85) scale(1 1.05)" font-size="4.3" text-anchor="end" font-family="'DejaVu Sans', 'Liberation Sans', sans-serif" fill="#222" stroke="#222" stroke-width="0.12">20</text>
<line x1="464.9" y1="292.25" x2="466.4" y2="292.25" stroke="#444" stroke-width="0.6"/>
<text transform="translate(463.7 293.85) scale(1 1.05)" font-size="4.3" text-anchor="end" font-family="'DejaVu Sans', 'Liberation Sans', sans-serif" fill="#222" stroke="#222" stroke-width="0.12">25</text>
<line x1="464.9" y1="281.25" x2="466.4" y2="281.25" stroke="#444" stroke-width="0.6"/>
<text transform="translate(463.7 282.85) scale(1 1.05)" font-size="4.3" text-anchor="end" font-family="'DejaVu Sans', 'Liberation Sans', sans-serif" fill="#222" stroke="#222" stroke-width="0.12">30</text>
<line x1="488.3" y1="347.25" x2="488.3" y2="348.75" stroke="#444" stroke-width="0.6"/>
<text transform="translate(488.3 353.8) scale(1 1.05)" font-size="4.3" text-anchor="middle" font-family="'DejaVu Sans', 'Liberation Sans', sans-serif" fill="#222" stroke="#222" stroke-width="0.12">200</text>
<line x1="515.6" y1="347.25" x2="515.6" y2="348.75" stroke="#444" stroke-width="0.6"/>
<text transform="translate(515.6 353.8) scale(1 1.05)" font-size="4.3" text-anchor="middle" font-family="'DejaVu Sans', 'Liberation Sans', sans-serif" fill="#222" stroke="#222" stroke-width="0.12">400</text>
<text x="503.8" y="277.3" font-size="5" text-anchor="middle" font-family="'DejaVu Sans', 'Liberation Sans', sans-serif" fill="#222" stroke="#222" stroke-width="0.12">Shape_Coefficient</text>
<rect x="18.45" y="442.46" width="3.42" height="14.69" fill="#76a7d8" stroke="#3f5f80" stroke-width="0.5"/>
<rect x="21.87" y="448.34" width="3.42" height="8.81" fill="#76a7d8" stroke="#3f5f80" stroke-width="0.5"/>
<rect x="25.29" y="421.9" width="3.42" height="35.25" fill="#76a7d8" stroke="#3f5f80" stroke-width="0.5"/>
<rect x="28.71" y="430.71" width="3.42" height="26.44" fill="#76a7d8" stroke="#3f5f80" stroke-width="0.5"/>
<rect x="32.13" y="416.03" width="3.42" height="41.12" fill="#76a7d8" stroke="#3f5f80" stroke-width="0.5"/>
<rect x="35.55" y="404.28" width="3.42" height="52.87" fill="#76a7d8" stroke="#3f5f80" stroke-width="0.5"/>
<rect x="38.97" y="392.53" width="3.42" height="64.62" fill="#76a7d8" stroke="#3f5f80" stroke-width="0.5"/>
<rect x="42.39" y="421.9" width="3.42" height="35.25" fill="#76a7d8" stroke="#3f5f80" stroke-width="0.5"/>
<rect x="45.81" y="407.22" width="3.42" height="49.93" fill="#76a7d8" stroke="#3f5f80" stroke-width="0.5"/>
<rect x="49.23" y="413.09" width="3.42" height="44.06" fill="#76a7d8" stroke="#3f5f80" stroke-width="0.5"/>
<rect x="52.65" y="433.65" width="3.42" height="23.5" fill="#76a7d8" stroke="#3f5f80" stroke-width="0.5"/>
<rect x="56.07" y="418.97" width="3.42" height="38.18" fill="#76a7d8" stroke="#3f5f80" stroke-width="0.5"/>
<rect x="59.49" y="427.78" width="3.42" height="29.37" fill="#76a7d8" stroke="#3f5f80" stroke-width="0.5"/>
<rect x="62.91" y="439.53" width="3.42" height="17.62" fill="#76a7d8" stroke="#3f5f80" stroke-width="0.5"/>
<rect x="66.33" y="427.78" width="3.42" height="29.37" fill="#76a7d8" stroke="#3f5f80" stroke-width="0.5"/>
<rect x="69.75" y="433.65" width="3.42" height="23.5" fill="#76a7d8" stroke="#3f5f80" stroke-width="0.5"/>
<rect x="73.17" y="445.4" width="3.42" height="11.75" fill="#76a7d8" stroke="#3f5f80" stroke-width="0.5"/>
<rect x="76.59" y="442.46" width="3.42" height="14.69" fill="#76a7d8" stroke="#3f5f80" stroke-width="0.5"/>
<rect x="80.01" y="445.4" width="3.42" height="11.75" fill="#76a7d8" stroke="#3f5f80" stroke-width="0.5"/>
<rect x="83.43" y="442.46" width="3.42" height="14.69" fill="#76a7d8" stroke="#3f5f80" stroke-width="0.5"/>
<line x1="15.3" y1="388.93" x2="15.3" y2="457.52" stroke="#6a6a6a" stroke-width="0.9"/>
<line x1="90.3" y1="388.93" x2="90.3" y2="457.52" stroke="#6a6a6a" stroke-width="0.9"/>
<line x1="14.85" y1="389.3" x2="90.75" y2="389.3" stroke="#7a7a7a" stroke-width="0.75"/>
<line x1="14.85" y1="457.15" x2="90.75" y2="457.15" stroke="#7a7a7a" stroke-width="0.75"/>
<line x1="13.8" y1="457.15" x2="15.3" y2="457.15" stroke="#444" stroke-width="0.6"/>
<text transform="translate(12.6 458.75) scale(1 1.05)" font-size="4.3" text-anchor="end" font-family="'DejaVu Sans', 'Liberation Sans', sans-serif" fill="#222" stroke="#222" stroke-width="0.12">0</text>
<line x1="13.8" y1="442.46" x2="15.3" y2="442.46" stroke="#444" stroke-width="0.6"/>
<text transform="translate(12.6 444.06) scale(1 1.05)" font-size="4.3" text-anchor="end" font-family="'DejaVu Sans', 'Liberation Sans', sans-serif" fill="#222" stroke="#222" stroke-width="0.12">5</text>
<line x1="13.8" y1="427.78" x2="15.3" y2="427.78" stroke="#444" stroke-width="0.6"/>
<text transform="translate(12.6 429.38) scale(1 1.05)" font-size="4.3" text-anchor="end" font-family="'DejaVu Sans', 'Liberation Sans', sans-serif" fill="#222" stroke="#222" stroke-width="0.12">10</text>
<line x1="13.8" y1="413.09" x2="15.3" y2="413.09" stroke="#444" stroke-width="0.6"/>
<text transform="translate(12.6 414.69) scale(1 1.05)" font-size="4.3" text-anchor="end" font-family="'DejaVu Sans', 'Liberation Sans', sans-serif" fill="#222" stroke="#222" stroke-width="0.12">15</text>
<line x1="13.8" y1="398.41" x2="15.3" y2="398.41" stroke="#444" stroke-width="0.6"/>
<text transform="translate(12.6 400.01) scale(1 1.05)" font-size="4.3" text-anchor="end" font-family="'DejaVu Sans', 'Liberation Sans', sans-serif" fill="#222" stroke="#222" stroke-width="0.12">20</text>
<line x1="19.3" y1="457.15" x2="19.3" y2="458.65" stroke="#444" stroke-width="0.6"/>
<text transform="translate(19.3 463.8) scale(1 1.05)" font-size="4.3" text-anchor="middle" font-family="'DejaVu Sans', 'Liberation Sans', sans-serif" fill="#222" stroke="#222" stroke-width="0.12">2000</text>
<line x1="38.9" y1="457.15" x2="38.9" y2="458.65" stroke="#444" stroke-width="0.6"/>
<text transform="translate(38.9 463.8) scale(1 1.05)" font-size="4.3" text-anchor="middle" font-family="'DejaVu Sans', 'Liberation Sans', sans-serif" fill="#222" stroke="#222" stroke-width="0.12">4000</text>
<line x1="58.5" y1="457.15" x2="58.5" y2="458.65" stroke="#444" stroke-width="0.6"/>
<text transform="translate(58.5 463.8) scale(1 1.05)" font-size="4.3" text-anchor="middle" font-family="'DejaVu Sans', 'Liberation Sans', sans-serif" fill="#222" stroke="#222" stroke-width="0.12">6000</text>
<line x1="78.1" y1="457.15" x2="78.1" y2="458.65" stroke="#444" stroke-width="0.6"/>
<text transform="translate(78.1 463.8) scale(1 1.05)" font-size="4.3" text-anchor="middle" font-family="'DejaVu Sans', 'Liberation Sans', sans-serif" fill="#222" stroke="#222" stroke-width="0.12">8000</text>
<text x="52.8" y="386.8" font-size="5" text-anchor="middle" font-family="'DejaVu Sans', 'Liberation Sans', sans-serif" fill="#222" stroke="#222" stroke-width="0.12">Area_m2</text>
<rect x="109.15" y="437.51" width="3.42" height="19.64" fill="#76a7d8" stroke="#3f5f80" stroke-width="0.5"/>
<rect x="126.25" y="392.53" width="3.42" height="64.62" fill="#76a7d8" stroke="#3f5f80" stroke-width="0.5"/>
<rect x="143.35" y="420.41" width="3.42" height="36.74" fill="#76a7d8" stroke="#3f5f80" stroke-width="0.5"/>
<rect x="160.45" y="452.08" width="3.42" height="5.07" fill="#76a7d8" stroke="#3f5f80" stroke-width="0.5"/>
<rect x="174.13" y="456.52" width="3.42" height="0.63" fill="#76a7d8" stroke="#3f5f80" stroke-width="0.5"/>
<line x1="105.3" y1="388.93" x2="105.3" y2="457.52" stroke="#6a6a6a" stroke-width="0.9"/>
<line x1="180.3" y1="388.93" x2="180.3" y2="457.52" stroke="#6a6a6a" stroke-width="0.9"/>
<line x1="104.85" y1="389.3" x2="180.75" y2="389.3" stroke="#7a7a7a" stroke-width="0.75"/>
<line x1="104.85" y1="457.15" x2="180.75" y2="457.15" stroke="#7a7a7a" stroke-width="0.75"/>
<line x1="103.8" y1="457.15" x2="105.3" y2="457.15" stroke="#444" stroke-width="0.6"/>
<text transform="translate(102.6 458.75) scale(1 1.05)" font-size="4.3" text-anchor="end" font-family="'DejaVu Sans', 'Liberation Sans', sans-serif" fill="#222" stroke="#222" stroke-width="0.12">0</text>
<line x1="103.8" y1="444.48" x2="105.3" y2="444.48" stroke="#444" stroke-width="0.6"/>
<text transform="translate(102.6 446.08) scale(1 1.05)" font-size="4.3" text-anchor="end" font-family="'DejaVu Sans', 'Liberation Sans', sans-serif" fill="#222" stroke="#222" stroke-width="0.12">20</text>
<line x1="103.8" y1="431.81" x2="105.3" y2="431.81" stroke="#444" stroke-width="0.6"/>
<text transform="translate(102.6 433.41) scale(1 1.05)" font-size="4.3" text-anchor="end" font-family="'DejaVu Sans', 'Liberation Sans', sans-serif" fill="#222" stroke="#222" stroke-width="0.12">40</text>
<line x1="103.8" y1="419.14" x2="105.3" y2="419.14" stroke="#444" stroke-width="0.6"/>
<text transform="translate(102.6 420.74) scale(1 1.05)" font-size="4.3" text-anchor="end" font-family="'DejaVu Sans', 'Liberation Sans', sans-serif" fill="#222" stroke="#222" stroke-width="0.12">60</text>
<line x1="103.8" y1="406.47" x2="105.3" y2="406.47" stroke="#444" stroke-width="0.6"/>
<text transform="translate(102.6 408.07) scale(1 1.05)" font-size="4.3" text-anchor="end" font-family="'DejaVu Sans', 'Liberation Sans', sans-serif" fill="#222" stroke="#222" stroke-width="0.12">80</text>
<line x1="103.8" y1="393.8" x2="105.3" y2="393.8" stroke="#444" stroke-width="0.6"/>
<text transform="translate(102.6 395.4) scale(1 1.05)" font-size="4.3" text-anchor="end" font-family="'DejaVu Sans', 'Liberation Sans', sans-serif" fill="#222" stroke="#222" stroke-width="0.12">100</text>
<line x1="120.2" y1="457.15" x2="120.2" y2="458.65" stroke="#444" stroke-width="0.6"/>
<text transform="translate(120.2 463.8) scale(1 1.05)" font-size="4.3" text-anchor="middle" font-family="'DejaVu Sans', 'Liberation Sans', sans-serif" fill="#222" stroke="#222" stroke-width="0.12">20</text>
<line x1="148.7" y1="457.15" x2="148.7" y2="458.65" stroke="#444" stroke-width="0.6"/>
<text transform="translate(148.7 463.8) scale(1 1.05)" font-size="4.3" text-anchor="middle" font-family="'DejaVu Sans', 'Liberation Sans', sans-serif" fill="#222" stroke="#222" stroke-width="0.12">25</text>
<line x1="177.2" y1="457.15" x2="177.2" y2="458.65" stroke="#444" stroke-width="0.6"/>
<text transform="translate(177.2 463.8) scale(1 1.05)" font-size="4.3" text-anchor="middle" font-family="'DejaVu Sans', 'Liberation Sans', sans-serif" fill="#222" stroke="#222" stroke-width="0.12">30</text>
<text x="142.8" y="386.8" font-size="5" text-anchor="middle" font-family="'DejaVu Sans', 'Liberation Sans', sans-serif" fill="#222" stroke="#222" stroke-width="0.12">Height_m</text>
<rect x="199.4" y="437.51" width="3.41" height="19.64" fill="#76a7d8" stroke="#3f5f80" stroke-width="0.5"/>
<rect x="216.45" y="392.53" width="3.41" height="64.62" fill="#76a7d8" stroke="#3f5f80" stroke-width="0.5"/>
<rect x="233.5" y="420.41" width="3.41" height="36.74" fill="#76a7d8" stroke="#3f5f80" stroke-width="0.5"/>
<rect x="250.55" y="452.08" width="3.41" height="5.07" fill="#76a7d8" stroke="#3f5f80" stroke-width="0.5"/>
<rect x="264.19" y="456.52" width="3.41" height="0.63" fill="#76a7d8" stroke="#3f5f80" stroke-width="0.5"/>
<line x1="195.6" y1="388.93" x2="195.6" y2="457.52" stroke="#6a6a6a" stroke-width="0.9"/>
<line x1="270.5" y1="388.93" x2="270.5" y2="457.52" stroke="#6a6a6a" stroke-width="0.9"/>
<line x1="195.15" y1="389.3" x2="270.95" y2="389.3" stroke="#7a7a7a" stroke-width="0.75"/>
<line x1="195.15" y1="457.15" x2="270.95" y2="457.15" stroke="#7a7a7a" stroke-width="0.75"/>
<line x1="194.1" y1="457.15" x2="195.6" y2="457.15" stroke="#444" stroke-width="0.6"/>
<text transform="translate(192.9 458.75) scale(1 1.05)" font-size="4.3" text-anchor="end" font-family="'DejaVu Sans', 'Liberation Sans', sans-serif" fill="#222" stroke="#222" stroke-width="0.12">0</text>
<line x1="194.1" y1="444.48" x2="195.6" y2="444.48" stroke="#444" stroke-width="0.6"/>
<text transform="translate(192.9 446.08) scale(1 1.05)" font-size="4.3" text-anchor="end" font-family="'DejaVu Sans', 'Liberation Sans', sans-serif" fill="#222" stroke="#222" stroke-width="0.12">20</text>
<line x1="194.1" y1="431.81" x2="195.6" y2="431.81" stroke="#444" stroke-width="0.6"/>
<text transform="translate(192.9 433.41) scale(1 1.05)" font-size="4.3" text-anchor="end" font-family="'DejaVu Sans', 'Liberation Sans', sans-serif" fill="#222" stroke="#222" stroke-width="0.12">40</text>
<line x1="194.1" y1="419.14" x2="195.6" y2="419.14" stroke="#444" stroke-width="0.6"/>
<text transform="translate(192.9 420.74) scale(1 1.05)" font-size="4.3" text-anchor="end" font-family="'DejaVu Sans', 'Liberation Sans', sans-serif" fill="#222" stroke="#222" stroke-width="0.12">60</text>
<line x1="194.1" y1="406.47" x2="195.6" y2="406.47" stroke="#444" stroke-width="0.6"/>
<text transform="translate(192.9 408.07) scale(1 1.05)" font-size="4.3" text-anchor="end" font-family="'DejaVu Sans', 'Liberation Sans', sans-serif" fill="#222" stroke="#222" stroke-width="0.12">80</text>
<line x1="194.1" y1="393.8" x2="195.6" y2="393.8" stroke="#444" stroke-width="0.6"/>
<text transform="translate(192.9 395.4) scale(1 1.05)" font-size="4.3" text-anchor="end" font-family="'DejaVu Sans', 'Liberation Sans', sans-serif" fill="#222" stroke="#222" stroke-width="0.12">100</text>
<line x1="199.4" y1="457.15" x2="199.4" y2="458.65" stroke="#444" stroke-width="0.6"/>
<text transform="translate(199.4 463.8) scale(1 1.05)" font-size="4.3" text-anchor="middle" font-family="'DejaVu Sans', 'Liberation Sans', sans-serif" fill="#222" stroke="#222" stroke-width="0.12">6</text>
<line x1="216.48" y1="457.15" x2="216.48" y2="458.65" stroke="#444" stroke-width="0.6"/>
<text transform="translate(216.48 463.8) scale(1 1.05)" font-size="4.3" text-anchor="middle" font-family="'DejaVu Sans', 'Liberation Sans', sans-serif" fill="#222" stroke="#222" stroke-width="0.12">7</text>
<line x1="233.56" y1="457.15" x2="233.56" y2="458.65" stroke="#444" stroke-width="0.6"/>
<text transform="translate(233.56 463.8) scale(1 1.05)" font-size="4.3" text-anchor="middle" font-family="'DejaVu Sans', 'Liberation Sans', sans-serif" fill="#222" stroke="#222" stroke-width="0.12">8</text>
<line x1="250.64" y1="457.15" x2="250.64" y2="458.65" stroke="#444" stroke-width="0.6"/>
<text transform="translate(250.64 463.8) scale(1 1.05)" font-size="4.3" text-anchor="middle" font-family="'DejaVu Sans', 'Liberation Sans', sans-serif" fill="#222" stroke="#222" stroke-width="0.12">9</text>
<line x1="267.72" y1="457.15" x2="267.72" y2="458.65" stroke="#444" stroke-width="0.6"/>
<text transform="translate(267.72 463.8) scale(1 1.05)" font-size="4.3" text-anchor="middle" font-family="'DejaVu Sans', 'Liberation Sans', sans-serif" fill="#222" stroke="#222" stroke-width="0.12">10</text>
<text x="233.05" y="386.8" font-size="5" text-anchor="middle" font-family="'DejaVu Sans', 'Liberation Sans', sans-serif" fill="#222" stroke="#222" stroke-width="0.12">Floors</text>
<rect x="289.5" y="415.84" width="3.41" height="41.31" fill="#76a7d8" stroke="#3f5f80" stroke-width="0.5"/>
<rect x="292.91" y="448.68" width="3.41" height="8.47" fill="#76a7d8" stroke="#3f5f80" stroke-width="0.5"/>
<rect x="296.32" y="452.91" width="3.41" height="4.24" fill="#76a7d8" stroke="#3f5f80" stroke-width="0.5"/>
<rect x="313.37" y="447.62" width="3.41" height="9.53" fill="#76a7d8" stroke="#3f5f80" stroke-width="0.5"/>
<rect x="316.78" y="455.03" width="3.41" height="2.12" fill="#76a7d8" stroke="#3f5f80" stroke-width="0.5"/>
<rect x="320.19" y="412.66" width="3.41" height="44.49" fill="#76a7d8" stroke="#3f5f80" stroke-width="0.5"/>
<rect x="323.6" y="392.53" width="3.41" height="64.62" fill="#76a7d8" stroke="#3f5f80" stroke-width="0.5"/>
<rect x="327.01" y="455.03" width="3.41" height="2.12" fill="#76a7d8" stroke="#3f5f80" stroke-width="0.5"/>
<rect x="330.42" y="455.03" width="3.41" height="2.12" fill="#76a7d8" stroke="#3f5f80" stroke-width="0.5"/>
<rect x="347.47" y="453.97" width="3.41" height="3.18" fill="#76a7d8" stroke="#3f5f80" stroke-width="0.5"/>
<rect x="350.88" y="456.09" width="3.41" height="1.06" fill="#76a7d8" stroke="#3f5f80" stroke-width="0.5"/>
<rect x="354.29" y="428.55" width="3.41" height="28.6" fill="#76a7d8" stroke="#3f5f80" stroke-width="0.5"/>
<line x1="286.4" y1="388.93" x2="286.4" y2="457.52" stroke="#6a6a6a" stroke-width="0.9"/>
<line x1="360.7" y1="388.93" x2="360.7" y2="457.52" stroke="#6a6a6a" stroke-width="0.9"/>
<line x1="285.95" y1="389.3" x2="361.15" y2="389.3" stroke="#7a7a7a" stroke-width="0.75"/>
<line x1="285.95" y1="457.15" x2="361.15" y2="457.15" stroke="#7a7a7a" stroke-width="0.75"/>
<line x1="284.9" y1="457.15" x2="286.4" y2="457.15" stroke="#444" stroke-width="0.6"/>
<text transform="translate(283.7 458.75) scale(1 1.05)" font-size="4.3" text-anchor="end" font-family="'DejaVu Sans', 'Liberation Sans', sans-serif" fill="#222" stroke="#222" stroke-width="0.12">0</text>
<line x1="284.9" y1="446.56" x2="286.4" y2="446.56" stroke="#444" stroke-width="0.6"/>
<text transform="translate(283.7 448.16) scale(1 1.05)" font-size="4.3" text-anchor="end" font-family="'DejaVu Sans', 'Liberation Sans', sans-serif" fill="#222" stroke="#222" stroke-width="0.12">10</text>
<line x1="284.9" y1="435.96" x2="286.4" y2="435.96" stroke="#444" stroke-width="0.6"/>
<text transform="translate(283.7 437.56) scale(1 1.05)" font-size="4.3" text-anchor="end" font-family="'DejaVu Sans', 'Liberation Sans', sans-serif" fill="#222" stroke="#222" stroke-width="0.12">20</text>
<line x1="284.9" y1="425.37" x2="286.4" y2="425.37" stroke="#444" stroke-width="0.6"/>
<text transform="translate(283.7 426.97) scale(1 1.05)" font-size="4.3" text-anchor="end" font-family="'DejaVu Sans', 'Liberation Sans', sans-serif" fill="#222" stroke="#222" stroke-width="0.12">30</text>
<line x1="284.9" y1="414.78" x2="286.4" y2="414.78" stroke="#444" stroke-width="0.6"/>
<text transform="translate(283.7 416.38) scale(1 1.05)" font-size="4.3" text-anchor="end" font-family="'DejaVu Sans', 'Liberation Sans', sans-serif" fill="#222" stroke="#222" stroke-width="0.12">40</text>
<line x1="284.9" y1="404.18" x2="286.4" y2="404.18" stroke="#444" stroke-width="0.6"/>
<text transform="translate(283.7 405.78) scale(1 1.05)" font-size="4.3" text-anchor="end" font-family="'DejaVu Sans', 'Liberation Sans', sans-serif" fill="#222" stroke="#222" stroke-width="0.12">50</text>
<line x1="284.9" y1="393.59" x2="286.4" y2="393.59" stroke="#444" stroke-width="0.6"/>
<text transform="translate(283.7 395.19) scale(1 1.05)" font-size="4.3" text-anchor="end" font-family="'DejaVu Sans', 'Liberation Sans', sans-serif" fill="#222" stroke="#222" stroke-width="0.12">60</text>
<line x1="289.3" y1="457.15" x2="289.3" y2="458.65" stroke="#444" stroke-width="0.6"/>
<text transform="translate(289.3 463.8) scale(1 1.05)" font-size="4.3" text-anchor="middle" font-family="'DejaVu Sans', 'Liberation Sans', sans-serif" fill="#222" stroke="#222" stroke-width="0.12">0</text>
<line x1="308.5" y1="457.15" x2="308.5" y2="458.65" stroke="#444" stroke-width="0.6"/>
<text transform="translate(308.5 463.8) scale(1 1.05)" font-size="4.3" text-anchor="middle" font-family="'DejaVu Sans', 'Liberation Sans', sans-serif" fill="#222" stroke="#222" stroke-width="0.12">50</text>
<line x1="327.7" y1="457.15" x2="327.7" y2="458.65" stroke="#444" stroke-width="0.6"/>
<text transform="translate(327.7 463.8) scale(1 1.05)" font-size="4.3" text-anchor="middle" font-family="'DejaVu Sans', 'Liberation Sans', sans-serif" fill="#222" stroke="#222" stroke-width="0.12">100</text>
<line x1="346.9" y1="457.15" x2="346.9" y2="458.65" stroke="#444" stroke-width="0.6"/>
<text transform="translate(346.9 463.8) scale(1 1.05)" font-size="4.3" text-anchor="middle" font-family="'DejaVu Sans', 'Liberation Sans', sans-serif" fill="#222" stroke="#222" stroke-width="0.12">150</text>
<text x="323.55" y="386.8" font-size="5" text-anchor="middle" font-family="'DejaVu Sans', 'Liberation Sans', sans-serif" fill="#222" stroke="#222" stroke-width="0.12">Orientation_deg</text>
<rect x="380" y="449.07" width="3.4" height="8.08" fill="#76a7d8" stroke="#3f5f80" stroke-width="0.5"/>
<rect x="383.4" y="427.53" width="3.4" height="29.62" fill="#76a7d8" stroke="#3f5f80" stroke-width="0.5"/>
<rect x="386.8" y="419.46" width="3.4" height="37.69" fill="#76a7d8" stroke="#3f5f80" stroke-width="0.5"/>
<rect x="390.2" y="403.3" width="3.4" height="53.85" fill="#76a7d8" stroke="#3f5f80" stroke-width="0.5"/>
<rect x="393.6" y="408.69" width="3.4" height="48.46" fill="#76a7d8" stroke="#3f5f80" stroke-width="0.5"/>
<rect x="397" y="432.92" width="3.4" height="24.23" fill="#76a7d8" stroke="#3f5f80" stroke-width="0.5"/>
<rect x="400.4" y="408.69" width="3.4" height="48.46" fill="#76a7d8" stroke="#3f5f80" stroke-width="0.5"/>
<rect x="403.8" y="408.69" width="3.4" height="48.46" fill="#76a7d8" stroke="#3f5f80" stroke-width="0.5"/>
<rect x="407.2" y="392.53" width="3.4" height="64.62" fill="#76a7d8" stroke="#3f5f80" stroke-width="0.5"/>
<rect x="410.6" y="414.07" width="3.4" height="43.08" fill="#76a7d8" stroke="#3f5f80" stroke-width="0.5"/>
<rect x="414" y="427.53" width="3.4" height="29.62" fill="#76a7d8" stroke="#3f5f80" stroke-width="0.5"/>
<rect x="417.4" y="451.77" width="3.4" height="5.38" fill="#76a7d8" stroke="#3f5f80" stroke-width="0.5"/>
<rect x="420.8" y="435.61" width="3.4" height="21.54" fill="#76a7d8" stroke="#3f5f80" stroke-width="0.5"/>
<rect x="424.2" y="435.61" width="3.4" height="21.54" fill="#76a7d8" stroke="#3f5f80" stroke-width="0.5"/>
<rect x="427.6" y="446.38" width="3.4" height="10.77" fill="#76a7d8" stroke="#3f5f80" stroke-width="0.5"/>
<rect x="431" y="446.38" width="3.4" height="10.77" fill="#76a7d8" stroke="#3f5f80" stroke-width="0.5"/>
<rect x="434.4" y="446.38" width="3.4" height="10.77" fill="#76a7d8" stroke="#3f5f80" stroke-width="0.5"/>
<rect x="437.8" y="449.07" width="3.4" height="8.08" fill="#76a7d8" stroke="#3f5f80" stroke-width="0.5"/>
<rect x="441.2" y="449.07" width="3.4" height="8.08" fill="#76a7d8" stroke="#3f5f80" stroke-width="0.5"/>
<rect x="444.6" y="451.77" width="3.4" height="5.38" fill="#76a7d8" stroke="#3f5f80" stroke-width="0.5"/>
<line x1="376.4" y1="388.93" x2="376.4" y2="457.52" stroke="#6a6a6a" stroke-width="0.9"/>
<line x1="450.8" y1="388.93" x2="450.8" y2="457.52" stroke="#6a6a6a" stroke-width="0.9"/>
<line x1="375.95" y1="389.3" x2="451.25" y2="389.3" stroke="#7a7a7a" stroke-width="0.75"/>
<line x1="375.95" y1="457.15" x2="451.25" y2="457.15" stroke="#7a7a7a" stroke-width="0.75"/>
<line x1="374.9" y1="457.15" x2="376.4" y2="457.15" stroke="#444" stroke-width="0.6"/>
<text transform="translate(373.7 458.75) scale(1 1.05)" font-size="4.3" text-anchor="end" font-family="'DejaVu Sans', 'Liberation Sans', sans-serif" fill="#222" stroke="#222" stroke-width="0.12">0</text>
<line x1="374.9" y1="443.69" x2="376.4" y2="443.69" stroke="#444" stroke-width="0.6"/>
<text transform="translate(373.7 445.29) scale(1 1.05)" font-size="4.3" text-anchor="end" font-family="'DejaVu Sans', 'Liberation Sans', sans-serif" fill="#222" stroke="#222" stroke-width="0.12">5</text>
<line x1="374.9" y1="430.23" x2="376.4" y2="430.23" stroke="#444" stroke-width="0.6"/>
<text transform="translate(373.7 431.83) scale(1 1.05)" font-size="4.3" text-anchor="end" font-family="'DejaVu Sans', 'Liberation Sans', sans-serif" fill="#222" stroke="#222" stroke-width="0.12">10</text>
<line x1="374.9" y1="416.76" x2="376.4" y2="416.76" stroke="#444" stroke-width="0.6"/>
<text transform="translate(373.7 418.36) scale(1 1.05)" font-size="4.3" text-anchor="end" font-family="'DejaVu Sans', 'Liberation Sans', sans-serif" fill="#222" stroke="#222" stroke-width="0.12">15</text>
<line x1="374.9" y1="403.3" x2="376.4" y2="403.3" stroke="#444" stroke-width="0.6"/>
<text transform="translate(373.7 404.9) scale(1 1.05)" font-size="4.3" text-anchor="end" font-family="'DejaVu Sans', 'Liberation Sans', sans-serif" fill="#222" stroke="#222" stroke-width="0.12">20</text>
<line x1="374.9" y1="389.84" x2="376.4" y2="389.84" stroke="#444" stroke-width="0.6"/>
<text transform="translate(373.7 391.44) scale(1 1.05)" font-size="4.3" text-anchor="end" font-family="'DejaVu Sans', 'Liberation Sans', sans-serif" fill="#222" stroke="#222" stroke-width="0.12">25</text>
<line x1="382.1" y1="457.15" x2="382.1" y2="458.65" stroke="#444" stroke-width="0.6"/>
<text transform="translate(382.1 463.8) scale(1 1.05)" font-size="4.3" text-anchor="middle" font-family="'DejaVu Sans', 'Liberation Sans', sans-serif" fill="#222" stroke="#222" stroke-width="0.12">180</text>
<line x1="399.3" y1="457.15" x2="399.3" y2="458.65" stroke="#444" stroke-width="0.6"/>
<text transform="translate(399.3 463.8) scale(1 1.05)" font-size="4.3" text-anchor="middle" font-family="'DejaVu Sans', 'Liberation Sans', sans-serif" fill="#222" stroke="#222" stroke-width="0.12">200</text>
<line x1="416.5" y1="457.15" x2="416.5" y2="458.65" stroke="#444" stroke-width="0.6"/>
<text transform="translate(416.5 463.8) scale(1 1.05)" font-size="4.3" text-anchor="middle" font-family="'DejaVu Sans', 'Liberation Sans', sans-serif" fill="#222" stroke="#222" stroke-width="0.12">220</text>
<line x1="433.7" y1="457.15" x2="433.7" y2="458.65" stroke="#444" stroke-width="0.6"/>
<text transform="translate(433.7 463.8) scale(1 1.05)" font-size="4.3" text-anchor="middle" font-family="'DejaVu Sans', 'Liberation Sans', sans-serif" fill="#222" stroke="#222" stroke-width="0.12">240</text>
<line x1="450.9" y1="457.15" x2="450.9" y2="458.65" stroke="#444" stroke-width="0.6"/>
<text transform="translate(450.9 463.8) scale(1 1.05)" font-size="4.3" text-anchor="middle" font-family="'DejaVu Sans', 'Liberation Sans', sans-serif" fill="#222" stroke="#222" stroke-width="0.12">260</text>
<text x="413.6" y="386.8" font-size="5" text-anchor="middle" font-family="'DejaVu Sans', 'Liberation Sans', sans-serif" fill="#222" stroke="#222" stroke-width="0.12">Target_EUI</text>
<rect x="470.2" y="442.46" width="3.41" height="14.69" fill="#76a7d8" stroke="#3f5f80" stroke-width="0.5"/>
<rect x="473.61" y="427.78" width="3.41" height="29.37" fill="#76a7d8" stroke="#3f5f80" stroke-width="0.5"/>
<rect x="477.02" y="433.65" width="3.41" height="23.5" fill="#76a7d8" stroke="#3f5f80" stroke-width="0.5"/>
<rect x="480.43" y="401.34" width="3.41" height="55.81" fill="#76a7d8" stroke="#3f5f80" stroke-width="0.5"/>
<rect x="483.84" y="392.53" width="3.41" height="64.62" fill="#76a7d8" stroke="#3f5f80" stroke-width="0.5"/>
<rect x="487.25" y="416.03" width="3.41" height="41.12" fill="#76a7d8" stroke="#3f5f80" stroke-width="0.5"/>
<rect x="490.66" y="407.22" width="3.41" height="49.93" fill="#76a7d8" stroke="#3f5f80" stroke-width="0.5"/>
<rect x="494.07" y="407.22" width="3.41" height="49.93" fill="#76a7d8" stroke="#3f5f80" stroke-width="0.5"/>
<rect x="497.48" y="424.84" width="3.41" height="32.31" fill="#76a7d8" stroke="#3f5f80" stroke-width="0.5"/>
<rect x="500.89" y="424.84" width="3.41" height="32.31" fill="#76a7d8" stroke="#3f5f80" stroke-width="0.5"/>
<rect x="504.3" y="433.65" width="3.41" height="23.5" fill="#76a7d8" stroke="#3f5f80" stroke-width="0.5"/>
<rect x="507.71" y="407.22" width="3.41" height="49.93" fill="#76a7d8" stroke="#3f5f80" stroke-width="0.5"/>
<rect x="511.12" y="430.71" width="3.41" height="26.44" fill="#76a7d8" stroke="#3f5f80" stroke-width="0.5"/>
<rect x="514.53" y="436.59" width="3.41" height="20.56" fill="#76a7d8" stroke="#3f5f80" stroke-width="0.5"/>
<rect x="517.94" y="433.65" width="3.41" height="23.5" fill="#76a7d8" stroke="#3f5f80" stroke-width="0.5"/>
<rect x="521.35" y="445.4" width="3.41" height="11.75" fill="#76a7d8" stroke="#3f5f80" stroke-width="0.5"/>
<rect x="524.76" y="445.4" width="3.41" height="11.75" fill="#76a7d8" stroke="#3f5f80" stroke-width="0.5"/>
<rect x="528.17" y="448.34" width="3.41" height="8.81" fill="#76a7d8" stroke="#3f5f80" stroke-width="0.5"/>
<rect x="531.58" y="445.4" width="3.41" height="11.75" fill="#76a7d8" stroke="#3f5f80" stroke-width="0.5"/>
<rect x="534.99" y="451.28" width="3.41" height="5.87" fill="#76a7d8" stroke="#3f5f80" stroke-width="0.5"/>
<line x1="466.8" y1="388.93" x2="466.8" y2="457.52" stroke="#6a6a6a" stroke-width="0.9"/>
<line x1="541.1" y1="388.93" x2="541.1" y2="457.52" stroke="#6a6a6a" stroke-width="0.9"/>
<line x1="466.35" y1="389.3" x2="541.55" y2="389.3" stroke="#7a7a7a" stroke-width="0.75"/>
<line x1="466.35" y1="457.15" x2="541.55" y2="457.15" stroke="#7a7a7a" stroke-width="0.75"/>
<line x1="465.3" y1="457.15" x2="466.8" y2="457.15" stroke="#444" stroke-width="0.6"/>
<text transform="translate(464.1 458.75) scale(1 1.05)" font-size="4.3" text-anchor="end" font-family="'DejaVu Sans', 'Liberation Sans', sans-serif" fill="#222" stroke="#222" stroke-width="0.12">0</text>
<line x1="465.3" y1="442.46" x2="466.8" y2="442.46" stroke="#444" stroke-width="0.6"/>
<text transform="translate(464.1 444.06) scale(1 1.05)" font-size="4.3" text-anchor="end" font-family="'DejaVu Sans', 'Liberation Sans', sans-serif" fill="#222" stroke="#222" stroke-width="0.12">5</text>
<line x1="465.3" y1="427.78" x2="466.8" y2="427.78" stroke="#444" stroke-width="0.6"/>
<text transform="translate(464.1 429.38) scale(1 1.05)" font-size="4.3" text-anchor="end" font-family="'DejaVu Sans', 'Liberation Sans', sans-serif" fill="#222" stroke="#222" stroke-width="0.12">10</text>
<line x1="465.3" y1="413.09" x2="466.8" y2="413.09" stroke="#444" stroke-width="0.6"/>
<text transform="translate(464.1 414.69) scale(1 1.05)" font-size="4.3" text-anchor="end" font-family="'DejaVu Sans', 'Liberation Sans', sans-serif" fill="#222" stroke="#222" stroke-width="0.12">15</text>
<line x1="465.3" y1="398.41" x2="466.8" y2="398.41" stroke="#444" stroke-width="0.6"/>
<text transform="translate(464.1 400.01) scale(1 1.05)" font-size="4.3" text-anchor="end" font-family="'DejaVu Sans', 'Liberation Sans', sans-serif" fill="#222" stroke="#222" stroke-width="0.12">20</text>
<line x1="468.7" y1="457.15" x2="468.7" y2="458.65" stroke="#444" stroke-width="0.6"/>
<text transform="translate(468.7 463.8) scale(1 1.05)" font-size="4.3" text-anchor="middle" font-family="'DejaVu Sans', 'Liberation Sans', sans-serif" fill="#222" stroke="#222" stroke-width="0.12">100</text>
<line x1="490.3" y1="457.15" x2="490.3" y2="458.65" stroke="#444" stroke-width="0.6"/>
<text transform="translate(490.3 463.8) scale(1 1.05)" font-size="4.3" text-anchor="middle" font-family="'DejaVu Sans', 'Liberation Sans', sans-serif" fill="#222" stroke="#222" stroke-width="0.12">200</text>
<line x1="511.9" y1="457.15" x2="511.9" y2="458.65" stroke="#444" stroke-width="0.6"/>
<text transform="translate(511.9 463.8) scale(1 1.05)" font-size="4.3" text-anchor="middle" font-family="'DejaVu Sans', 'Liberation Sans', sans-serif" fill="#222" stroke="#222" stroke-width="0.12">300</text>
<line x1="533.5" y1="457.15" x2="533.5" y2="458.65" stroke="#444" stroke-width="0.6"/>
<text transform="translate(533.5 463.8) scale(1 1.05)" font-size="4.3" text-anchor="middle" font-family="'DejaVu Sans', 'Liberation Sans', sans-serif" fill="#222" stroke="#222" stroke-width="0.12">400</text>
<text x="503.95" y="386.8" font-size="5" text-anchor="middle" font-family="'DejaVu Sans', 'Liberation Sans', sans-serif" fill="#222" stroke="#222" stroke-width="0.12">Shape_Coefficient</text>
<text x="274.6" y="128.9" font-size="13.3" text-anchor="middle" font-family="'Liberation Serif', 'DejaVu Serif', serif" fill="#111">(a)</text>
<text x="274.9" y="257.8" font-size="13.3" text-anchor="middle" font-family="'Liberation Serif', 'DejaVu Serif', serif" fill="#111">(b)</text>
<text x="274.75" y="374.5" font-size="13.3" text-anchor="middle" font-family="'Liberation Serif', 'DejaVu Serif', serif" fill="#111">(c)</text>
<text x="274.75" y="484.1" font-size="13.3" text-anchor="middle" font-family="'Liberation Serif', 'DejaVu Serif', serif" fill="#111">(d)</text>
</g>
</svg>
</body></html>
